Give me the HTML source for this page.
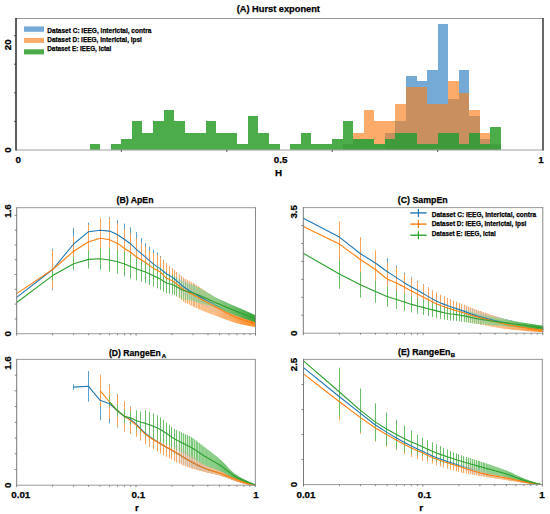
<!DOCTYPE html>
<html><head><meta charset="utf-8"><style>
html,body{margin:0;padding:0;background:#fff;}
svg{display:block;}
text{font-family:"Liberation Sans",sans-serif;font-weight:bold;fill:#000;stroke:#000;stroke-width:0.25px;}
</style></head><body>
<svg width="550" height="514" viewBox="0 0 550 514">
<rect width="550" height="514" fill="#fff"/>
<path d="M90 144H100V150H90ZM111 144H121V150H111ZM121 139H132V150H121ZM132 121H142V150H132ZM142 133H153V150H142ZM153 121H164V150H153ZM164 110H174V150H164ZM174 121H185V150H174ZM185 133H195V150H185ZM195 133H206V150H195ZM206 121H216V150H206ZM216 133H227V150H216ZM227 133H237V150H227ZM237 144H248V150H237ZM248 116H258V150H248ZM258 133H269V150H258ZM269 144H280V150H269ZM290 144H301V150H290ZM301 133H311V150H301ZM311 144H322V150H311ZM322 144H332V150H322ZM332 139H343V150H332ZM343 121H353V144H343ZM490 127H501V144H490Z" fill="#4dac4a" shape-rendering="crispEdges"/>
<path d="M343 144H353V150H343ZM353 139H364V150H353ZM364 139H374V150H364ZM374 144H385V150H374ZM490 144H501V150H490Z" fill="#41a03e" shape-rendering="crispEdges"/>
<path d="M353 133H364V139H353ZM364 110H374V139H364ZM374 121H385V144H374ZM385 121H395V133H385ZM395 104H406V121H395ZM448 81H459V99H448ZM469 110H480V116H469ZM480 133H490V139H480Z" fill="#fdab6a" shape-rendering="crispEdges"/>
<path d="M385 139H395V150H385ZM395 133H406V150H395ZM406 133H417V150H406ZM417 144H427V150H417ZM427 144H438V150H427ZM438 133H448V150H438ZM448 133H459V150H448ZM459 144H469V150H459ZM469 133H480V150H469ZM480 144H490V150H480Z" fill="#3f9a3b" shape-rendering="crispEdges"/>
<path d="M385 133H395V139H385ZM395 121H406V133H395ZM406 87H417V133H406ZM417 87H427V144H417ZM427 104H438V144H427ZM438 104H448V133H438ZM448 99H459V133H448ZM459 93H469V144H459ZM469 116H480V133H469ZM480 139H490V144H480Z" fill="#c98f5e" shape-rendering="crispEdges"/>
<path d="M406 76H417V87H406ZM417 81H427V87H417ZM427 70H438V104H427ZM438 24H448V104H438ZM459 70H469V93H459Z" fill="#75aad6" shape-rendering="crispEdges"/>
<line x1="16" y1="18.5" x2="543" y2="18.5" stroke="#9a9a9a" stroke-width="1"/>
<line x1="16" y1="150" x2="543" y2="150" stroke="#a0a0a0" stroke-width="1"/>
<line x1="16" y1="18" x2="16" y2="150.5" stroke="#2a2a2a" stroke-width="1.5"/>
<line x1="543" y1="18" x2="543" y2="150.5" stroke="#2a2a2a" stroke-width="1.4"/>
<line x1="14" y1="121.4" x2="16" y2="121.4" stroke="#333333" stroke-width="0.8"/>
<line x1="14" y1="92.8" x2="16" y2="92.8" stroke="#333333" stroke-width="0.8"/>
<line x1="14" y1="64.2" x2="16" y2="64.2" stroke="#333333" stroke-width="0.8"/>
<line x1="14" y1="35.6" x2="16" y2="35.6" stroke="#333333" stroke-width="0.8"/>
<line x1="121.4" y1="150" x2="121.4" y2="152" stroke="#333333" stroke-width="0.8"/>
<line x1="226.8" y1="150" x2="226.8" y2="152" stroke="#333333" stroke-width="0.8"/>
<line x1="332.2" y1="150" x2="332.2" y2="152" stroke="#333333" stroke-width="0.8"/>
<line x1="437.6" y1="150" x2="437.6" y2="152" stroke="#333333" stroke-width="0.8"/>
<rect x="24" y="26.4" width="20" height="5.4" fill="#75aad6"/>
<rect x="24" y="37.9" width="20" height="5" fill="#fdab6a"/>
<rect x="24" y="49.3" width="20" height="5.1" fill="#4dac4a"/>
<text x="47.3" y="33.2" text-anchor="start" font-size="7.4" textLength="104" lengthAdjust="spacingAndGlyphs" >Dataset C: iEEG, interictal, contra</text>
<text x="47.3" y="41.9" text-anchor="start" font-size="7.4" textLength="94.6" lengthAdjust="spacingAndGlyphs" >Dataset D: iEEG, interictal, ipsi</text>
<text x="47.3" y="50.6" text-anchor="start" font-size="7.4" textLength="64" lengthAdjust="spacingAndGlyphs" >Dataset E: iEEG, ictal</text>
<text x="278.3" y="12.2" text-anchor="middle" font-size="9.6" textLength="83.3" lengthAdjust="spacingAndGlyphs" >(A) Hurst exponent</text>
<text x="18.3" y="163.3" text-anchor="middle" font-size="9.8" >0</text>
<text x="280.6" y="163.3" text-anchor="middle" font-size="9.8" >0.5</text>
<text x="541" y="163.3" text-anchor="middle" font-size="9.8" >1</text>
<text x="278.5" y="176" text-anchor="middle" font-size="9.8" >H</text>
<text transform="translate(10.8,150) rotate(-90)" text-anchor="middle" font-size="9.8" >0</text>
<text transform="translate(10.8,44.8) rotate(-90)" text-anchor="middle" font-size="9.8" >20</text>
<path d="M52.5 248.7V290.3M73.5 227.8V260.2M88.5 222.7V240.7M100.5 219.2V241.2M109.5 217.2V245M117.5 220.3V249.3M124.5 223.6V255.4M130.5 227.3V260.3M136.5 232.1V266.1M141.5 237.99V268.68M145.5 243.2V271M149.5 246.61V275.05M153.5 249.6V278.6M157.5 252.57V280.62M160.5 255.95V281.85M163.5 259.86V283.21M166.5 263.43V284.37M169.5 266.01V285.08M172.5 268.1V286.1M174.5 270.29V287.74M176.5 272.63V289.6M179.5 274.92V291.48M181.5 277.03V293.23M183.5 278.86V294.74M185.5 280.43V296.04M187.5 281.85V297.22M189.5 283.16V298.31M191.5 284.38V299.32M193.5 285.52V300.28M194.5 286.6V301.19M196.5 287.62V302.05M198.5 288.59V302.88M199.5 289.52V303.66M201.06 290.4V304.41M202.52 291.25V305.12M203.94 292.07V305.81M205.33 292.86V306.47M206.67 293.62V307.11M207.99 294.36V307.73M209.27 295.09V308.32M210.52 295.79V308.9M211.74 296.48V309.46M212.93 297.16V310M214.09 297.82V310.53M215.23 298.47V311.05M216.35 299.12V311.55M217.44 299.75V312.05M218.51 300.38V312.53M219.56 301V313M220.58 301.62V313.47M221.59 302.23V313.93M222.58 302.84V314.39M223.55 303.44V314.85M224.5 304.03V315.3M225.43 304.62V315.74M226.35 305.19V316.17M255.5 319.5V325.5" stroke="#5b9fd0" stroke-width="1" fill="none"/>
<path d="M52.5 250.2V288.8M73.5 236.7V265.7M88.5 224.7V258.9M100.5 218.2V258.2M109.5 218.3V261.3M117.5 223.4V263.4M124.5 229.28V267.72M130.5 233.64V270.96M136.5 238.7V274.7M141.5 242.88V276.65M145.5 246.5V278.5M149.5 249.92V281.33M153.5 252.9V283.9M157.5 254.89V285.57M160.5 256.89V287.31M163.5 260.34V290.45M166.5 263.5V293.1M169.5 265.98V293.06M172.5 268.2V293M174.5 270.02V294.46M176.5 272.11V296.3M179.5 274.2V298.23M181.5 276.11V300.02M183.5 277.69V301.51M185.5 278.97V302.7M187.5 280.1V303.74M189.5 281.15V304.68M191.5 282.17V305.55M193.5 283.2V306.4M194.5 284.24V307.21M196.5 285.28V307.97M198.5 286.3V308.67M199.5 287.32V309.34M201.06 288.32V309.97M202.52 289.31V310.56M203.94 290.28V311.13M205.33 291.23V311.67M206.67 292.16V312.19M207.99 293.08V312.69M209.27 293.97V313.17M210.52 294.84V313.64M211.74 295.68V314.09M212.93 296.51V314.53M214.09 297.31V314.96M215.23 298.09V315.38M216.35 298.85V315.8M217.44 299.59V316.2M218.51 300.31V316.6M219.56 301V317M220.58 301.68V317.39M221.59 302.37V317.79M222.58 303.04V318.18M223.55 303.72V318.56M224.5 304.38V318.94M225.43 305.03V319.31M226.35 305.67V319.68M255.5 319.8V326.8" stroke="#fca35a" stroke-width="1" fill="none"/>
<path d="M52.5 270.6V280.6M73.5 257V270.4M88.5 250.2V268.6M100.5 248V269.6M109.5 248.3V271.7M117.5 249.7V273.7M124.5 251.8V276.4M130.5 254.53V278.67M136.5 257V280.4M141.5 259.18V281.69M145.5 261.1V283.1M149.5 262.96V284.96M153.5 264.8V286.8M157.5 266.51V288.36M160.5 268.35V289.85M163.5 270.72V291.77M166.5 272.7V293.3M169.5 273.79V293.79M172.5 274.8V294.2M174.5 276.11V295.09M176.5 277.63V296.25M179.5 279.14V297.45M181.5 280.47V298.51M183.5 281.51V299.29M185.5 282.28V299.8M187.5 282.93V300.18M189.5 283.52V300.51M191.5 284.13V300.83M193.5 284.8V301.2M194.5 285.54V301.6M196.5 286.34V302M198.5 287.16V302.39M199.5 288.01V302.78M201.06 288.87V303.17M202.52 289.73V303.56M203.94 290.58V303.95M205.33 291.43V304.34M206.67 292.26V304.73M207.99 293.07V305.12M209.27 293.86V305.52M210.52 294.62V305.91M211.74 295.35V306.3M212.93 296.05V306.7M214.09 296.71V307.1M215.23 297.34V307.49M216.35 297.94V307.89M217.44 298.5V308.29M218.51 299.02V308.7M219.56 299.5V309.1M220.58 299.96V309.5M221.59 300.4V309.9M222.58 300.84V310.29M223.55 301.26V310.68M224.5 301.67V311.06M225.43 302.08V311.44M226.35 302.47V311.81M255.5 315.2V322.2" stroke="#6cbf6a" stroke-width="1" fill="none"/>
<defs><linearGradient id="g31_0" gradientUnits="userSpaceOnUse" x1="172.04" y1="0" x2="255.5" y2="0"><stop offset="0" stop-color="#8dbde0" stop-opacity="0"/><stop offset="0.25" stop-color="#8dbde0" stop-opacity="0.5"/><stop offset="0.5" stop-color="#8dbde0" stop-opacity="0.9"/><stop offset="1" stop-color="#3d8cc4"/></linearGradient></defs><polygon points="172.04,268.1 174.57,270.29 176.99,272.63 179.29,274.92 181.5,277.03 183.61,278.86 185.65,280.43 187.6,281.85 189.49,283.16 191.31,284.38 193.07,285.52 194.77,286.6 196.41,287.62 198.01,288.59 199.56,289.52 201.06,290.4 202.52,291.25 203.94,292.07 205.33,292.86 206.67,293.62 207.99,294.36 209.27,295.09 210.52,295.79 211.74,296.48 212.93,297.16 214.09,297.82 215.23,298.47 216.35,299.12 217.44,299.75 218.51,300.38 219.56,301 220.58,301.62 221.59,302.23 222.58,302.84 223.55,303.44 224.5,304.03 225.43,304.62 226.35,305.19 227.25,305.75 228.14,306.3 229.01,306.84 229.87,307.36 230.71,307.87 231.54,308.36 232.36,308.84 233.16,309.3 233.95,309.74 234.73,310.18 235.5,310.59 236.26,310.99 237,311.37 237.74,311.74 238.47,312.1 239.18,312.45 239.89,312.79 240.58,313.13 241.27,313.46 241.95,313.79 242.62,314.1 243.28,314.41 243.93,314.71 244.57,315.01 245.21,315.3 245.84,315.58 246.46,315.86 247.07,316.13 247.68,316.39 248.28,316.65 248.87,316.9 249.46,317.15 250.04,317.39 250.61,317.62 251.18,317.85 251.74,318.08 252.29,318.29 252.84,318.51 253.38,318.72 253.92,318.92 254.45,319.12 254.98,319.31 255.5,319.5 255.5,325.5 254.98,325.41 254.45,325.31 253.92,325.21 253.38,325.11 252.84,325 252.29,324.88 251.74,324.76 251.18,324.64 250.61,324.52 250.04,324.38 249.46,324.25 248.87,324.11 248.28,323.96 247.68,323.81 247.07,323.65 246.46,323.49 245.84,323.33 245.21,323.15 244.57,322.98 243.93,322.79 243.28,322.61 242.62,322.41 241.95,322.21 241.27,322 240.58,321.79 239.89,321.57 239.18,321.35 238.47,321.12 237.74,320.88 237,320.63 236.26,320.38 235.5,320.11 234.73,319.82 233.95,319.52 233.16,319.2 232.36,318.87 231.54,318.52 230.71,318.16 229.87,317.79 229.01,317.4 228.14,317 227.25,316.59 226.35,316.17 225.43,315.74 224.5,315.3 223.55,314.85 222.58,314.39 221.59,313.93 220.58,313.47 219.56,313 218.51,312.53 217.44,312.05 216.35,311.55 215.23,311.05 214.09,310.53 212.93,310 211.74,309.46 210.52,308.9 209.27,308.32 207.99,307.73 206.67,307.11 205.33,306.47 203.94,305.81 202.52,305.12 201.06,304.41 199.56,303.66 198.01,302.88 196.41,302.05 194.77,301.19 193.07,300.28 191.31,299.32 189.49,298.31 187.6,297.22 185.65,296.04 183.61,294.74 181.5,293.23 179.29,291.48 176.99,289.6 174.57,287.74 172.04,286.1" fill="url(#g31_0)"/>
<defs><linearGradient id="g31_1" gradientUnits="userSpaceOnUse" x1="172.04" y1="0" x2="255.5" y2="0"><stop offset="0" stop-color="#fdbf8a" stop-opacity="0"/><stop offset="0.25" stop-color="#fdbf8a" stop-opacity="0.5"/><stop offset="0.5" stop-color="#fdbf8a" stop-opacity="0.9"/><stop offset="1" stop-color="#ff8a22"/></linearGradient></defs><polygon points="172.04,268.2 174.57,270.02 176.99,272.11 179.29,274.2 181.5,276.11 183.61,277.69 185.65,278.97 187.6,280.1 189.49,281.15 191.31,282.17 193.07,283.2 194.77,284.24 196.41,285.28 198.01,286.3 199.56,287.32 201.06,288.32 202.52,289.31 203.94,290.28 205.33,291.23 206.67,292.16 207.99,293.08 209.27,293.97 210.52,294.84 211.74,295.68 212.93,296.51 214.09,297.31 215.23,298.09 216.35,298.85 217.44,299.59 218.51,300.31 219.56,301 220.58,301.68 221.59,302.37 222.58,303.04 223.55,303.72 224.5,304.38 225.43,305.03 226.35,305.67 227.25,306.29 228.14,306.9 229.01,307.49 229.87,308.07 230.71,308.62 231.54,309.16 232.36,309.67 233.16,310.17 233.95,310.64 234.73,311.09 235.5,311.51 236.26,311.92 237,312.3 237.74,312.66 238.47,313.02 239.18,313.37 239.89,313.71 240.58,314.04 241.27,314.36 241.95,314.67 242.62,314.98 243.28,315.27 243.93,315.56 244.57,315.84 245.21,316.12 245.84,316.38 246.46,316.64 247.07,316.89 247.68,317.13 248.28,317.37 248.87,317.59 249.46,317.81 250.04,318.03 250.61,318.24 251.18,318.44 251.74,318.63 252.29,318.81 252.84,318.99 253.38,319.17 253.92,319.34 254.45,319.5 254.98,319.65 255.5,319.8 255.5,326.8 254.98,326.75 254.45,326.69 253.92,326.63 253.38,326.56 252.84,326.49 252.29,326.42 251.74,326.34 251.18,326.25 250.61,326.17 250.04,326.08 249.46,325.98 248.87,325.88 248.28,325.78 247.68,325.67 247.07,325.56 246.46,325.44 245.84,325.32 245.21,325.19 244.57,325.06 243.93,324.92 243.28,324.78 242.62,324.64 241.95,324.49 241.27,324.33 240.58,324.17 239.89,324.01 239.18,323.84 238.47,323.66 237.74,323.48 237,323.3 236.26,323.11 235.5,322.9 234.73,322.67 233.95,322.43 233.16,322.18 232.36,321.91 231.54,321.63 230.71,321.33 229.87,321.03 229.01,320.71 228.14,320.37 227.25,320.03 226.35,319.68 225.43,319.31 224.5,318.94 223.55,318.56 222.58,318.18 221.59,317.79 220.58,317.39 219.56,317 218.51,316.6 217.44,316.2 216.35,315.8 215.23,315.38 214.09,314.96 212.93,314.53 211.74,314.09 210.52,313.64 209.27,313.17 207.99,312.69 206.67,312.19 205.33,311.67 203.94,311.13 202.52,310.56 201.06,309.97 199.56,309.34 198.01,308.67 196.41,307.97 194.77,307.21 193.07,306.4 191.31,305.55 189.49,304.68 187.6,303.74 185.65,302.7 183.61,301.51 181.5,300.02 179.29,298.23 176.99,296.3 174.57,294.46 172.04,293" fill="url(#g31_1)"/>
<defs><linearGradient id="g31_2" gradientUnits="userSpaceOnUse" x1="172.04" y1="0" x2="255.5" y2="0"><stop offset="0" stop-color="#8ccf8a" stop-opacity="0"/><stop offset="0.25" stop-color="#8ccf8a" stop-opacity="0.5"/><stop offset="0.5" stop-color="#8ccf8a" stop-opacity="0.9"/><stop offset="1" stop-color="#3aa53a"/></linearGradient></defs><polygon points="172.04,274.8 174.57,276.11 176.99,277.63 179.29,279.14 181.5,280.47 183.61,281.51 185.65,282.28 187.6,282.93 189.49,283.52 191.31,284.13 193.07,284.8 194.77,285.54 196.41,286.34 198.01,287.16 199.56,288.01 201.06,288.87 202.52,289.73 203.94,290.58 205.33,291.43 206.67,292.26 207.99,293.07 209.27,293.86 210.52,294.62 211.74,295.35 212.93,296.05 214.09,296.71 215.23,297.34 216.35,297.94 217.44,298.5 218.51,299.02 219.56,299.5 220.58,299.96 221.59,300.4 222.58,300.84 223.55,301.26 224.5,301.67 225.43,302.08 226.35,302.47 227.25,302.86 228.14,303.24 229.01,303.61 229.87,303.97 230.71,304.33 231.54,304.68 232.36,305.03 233.16,305.37 233.95,305.7 234.73,306.03 235.5,306.36 236.26,306.68 237,307 237.74,307.31 238.47,307.63 239.18,307.93 239.89,308.24 240.58,308.54 241.27,308.84 241.95,309.14 242.62,309.43 243.28,309.73 243.93,310.01 244.57,310.3 245.21,310.58 245.84,310.86 246.46,311.14 247.07,311.41 247.68,311.68 248.28,311.95 248.87,312.22 249.46,312.48 250.04,312.74 250.61,313 251.18,313.25 251.74,313.5 252.29,313.75 252.84,314 253.38,314.25 253.92,314.49 254.45,314.73 254.98,314.97 255.5,315.2 255.5,322.2 254.98,322.04 254.45,321.88 253.92,321.72 253.38,321.55 252.84,321.38 252.29,321.21 251.74,321.04 251.18,320.86 250.61,320.68 250.04,320.5 249.46,320.31 248.87,320.12 248.28,319.93 247.68,319.73 247.07,319.54 246.46,319.33 245.84,319.12 245.21,318.91 244.57,318.7 243.93,318.48 243.28,318.25 242.62,318.03 241.95,317.79 241.27,317.55 240.58,317.31 239.89,317.06 239.18,316.8 238.47,316.54 237.74,316.27 237,316 236.26,315.72 235.5,315.43 234.73,315.14 233.95,314.83 233.16,314.53 232.36,314.21 231.54,313.89 230.71,313.56 229.87,313.22 229.01,312.88 228.14,312.53 227.25,312.17 226.35,311.81 225.43,311.44 224.5,311.06 223.55,310.68 222.58,310.29 221.59,309.9 220.58,309.5 219.56,309.1 218.51,308.7 217.44,308.29 216.35,307.89 215.23,307.49 214.09,307.1 212.93,306.7 211.74,306.3 210.52,305.91 209.27,305.52 207.99,305.12 206.67,304.73 205.33,304.34 203.94,303.95 202.52,303.56 201.06,303.17 199.56,302.78 198.01,302.39 196.41,302 194.77,301.6 193.07,301.2 191.31,300.83 189.49,300.51 187.6,300.18 185.65,299.8 183.61,299.29 181.5,298.51 179.29,297.45 176.99,296.25 174.57,295.09 172.04,294.2" fill="url(#g31_2)"/>
<defs><linearGradient id="lg31_0" gradientUnits="userSpaceOnUse" x1="201.06" y1="0" x2="229.01" y2="0"><stop offset="0" stop-color="#1f77b4"/><stop offset="1" stop-color="#1f77b4" stop-opacity="0"/></linearGradient></defs><polyline points="16.7,297.4 52.64,269.5 73.67,244 88.59,231.7 100.16,230.2 109.61,231.1 117.6,234.8 124.53,239.5 130.64,243.8 136.1,249.1 141.04,253.33 145.55,257.1 149.7,260.83 153.55,264.1 157.13,266.59 160.47,268.9 163.62,271.53 166.58,273.9 169.38,275.54 172.04,277.1 174.57,279.02 176.99,281.11 179.29,283.2 181.5,285.13 183.61,286.8 185.65,288.23 187.6,289.53 189.49,290.73 191.31,291.85 193.07,292.9 194.77,293.9 196.41,294.84 198.01,295.73 199.56,296.59 201.06,297.4 202.52,298.19 203.94,298.94 205.33,299.66 206.67,300.37 207.99,301.04 209.27,301.7 210.52,302.34 211.74,302.97 212.93,303.58 214.09,304.18 215.23,304.76 216.35,305.33 217.44,305.9 218.51,306.45 219.56,307 220.58,307.54 221.59,308.08 222.58,308.62 223.55,309.14 224.5,309.67 225.43,310.18 226.35,310.68 227.25,311.17 228.14,311.65 229.01,312.12 229.87,312.57 230.71,313.01 231.54,313.44 232.36,313.85 233.16,314.25 233.95,314.63 234.73,315 235.5,315.35 236.26,315.68 237,316 237.74,316.31 238.47,316.61 239.18,316.9 239.89,317.18 240.58,317.46 241.27,317.73 241.95,318 242.62,318.26 243.28,318.51 243.93,318.75 244.57,318.99 245.21,319.23 245.84,319.45 246.46,319.67 247.07,319.89 247.68,320.1 248.28,320.3 248.87,320.5 249.46,320.7 250.04,320.89 250.61,321.07 251.18,321.25 251.74,321.42 252.29,321.59 252.84,321.75 253.38,321.91 253.92,322.06 254.45,322.21 254.98,322.36 255.5,322.5" stroke="url(#lg31_0)" stroke-width="1.1" fill="none" stroke-linejoin="round"/>
<polyline points="16.7,293.6 52.64,269.5 73.67,251.2 88.59,241.8 100.16,238.2 109.61,239.8 117.6,243.4 124.53,248.5 130.64,252.3 136.1,256.7 141.04,259.76 145.55,262.5 149.7,265.62 153.55,268.4 157.13,270.23 160.47,272.1 163.62,275.39 166.58,278.3 169.38,279.52 172.04,280.6 174.57,282.24 176.99,284.2 179.29,286.22 181.5,288.07 183.61,289.6 185.65,290.83 187.6,291.92 189.49,292.92 191.31,293.86 193.07,294.8 194.77,295.73 196.41,296.62 198.01,297.49 199.56,298.33 201.06,299.15 202.52,299.94 203.94,300.71 205.33,301.45 206.67,302.18 207.99,302.88 209.27,303.57 210.52,304.24 211.74,304.89 212.93,305.52 214.09,306.14 215.23,306.74 216.35,307.33 217.44,307.9 218.51,308.46 219.56,309 220.58,309.54 221.59,310.08 222.58,310.61 223.55,311.14 224.5,311.66 225.43,312.17 226.35,312.67 227.25,313.16 228.14,313.64 229.01,314.1 229.87,314.55 230.71,314.98 231.54,315.39 232.36,315.79 233.16,316.17 233.95,316.54 234.73,316.88 235.5,317.21 236.26,317.51 237,317.8 237.74,318.07 238.47,318.34 239.18,318.6 239.89,318.86 240.58,319.1 241.27,319.34 241.95,319.58 242.62,319.81 243.28,320.03 243.93,320.24 244.57,320.45 245.21,320.65 245.84,320.85 246.46,321.04 247.07,321.22 247.68,321.4 248.28,321.57 248.87,321.74 249.46,321.9 250.04,322.05 250.61,322.2 251.18,322.34 251.74,322.48 252.29,322.62 252.84,322.74 253.38,322.86 253.92,322.98 254.45,323.09 254.98,323.2 255.5,323.3" stroke="#ff7f0e" stroke-width="1.1" fill="none" stroke-linejoin="round"/>
<polyline points="16.7,302.5 52.64,275.6 73.67,263.7 88.59,259.4 100.16,258.8 109.61,260 117.6,261.7 124.53,264.1 130.64,266.6 136.1,268.7 141.04,270.43 145.55,272.1 149.7,273.96 153.55,275.8 157.13,277.44 160.47,279.1 163.62,281.24 166.58,283 169.38,283.79 172.04,284.5 174.57,285.6 176.99,286.94 179.29,288.29 181.5,289.49 183.61,290.4 185.65,291.04 187.6,291.56 189.49,292.02 191.31,292.48 193.07,293 194.77,293.57 196.41,294.17 198.01,294.78 199.56,295.4 201.06,296.02 202.52,296.65 203.94,297.27 205.33,297.89 206.67,298.5 207.99,299.1 209.27,299.69 210.52,300.26 211.74,300.83 212.93,301.37 214.09,301.9 215.23,302.42 216.35,302.91 217.44,303.39 218.51,303.86 219.56,304.3 220.58,304.73 221.59,305.15 222.58,305.57 223.55,305.97 224.5,306.37 225.43,306.76 226.35,307.14 227.25,307.51 228.14,307.88 229.01,308.24 229.87,308.6 230.71,308.94 231.54,309.28 232.36,309.62 233.16,309.95 233.95,310.27 234.73,310.58 235.5,310.9 236.26,311.2 237,311.5 237.74,311.79 238.47,312.08 239.18,312.37 239.89,312.65 240.58,312.93 241.27,313.2 241.95,313.47 242.62,313.73 243.28,313.99 243.93,314.25 244.57,314.5 245.21,314.75 245.84,314.99 246.46,315.23 247.07,315.47 247.68,315.71 248.28,315.94 248.87,316.17 249.46,316.4 250.04,316.62 250.61,316.84 251.18,317.06 251.74,317.27 252.29,317.48 252.84,317.69 253.38,317.9 253.92,318.1 254.45,318.3 254.98,318.5 255.5,318.7" stroke="#2ca02c" stroke-width="1.1" fill="none" stroke-linejoin="round"/>
<line x1="16.7" y1="207.7" x2="255.5" y2="207.7" stroke="#9a9a9a" stroke-width="1"/>
<line x1="16.7" y1="333.7" x2="255.5" y2="333.7" stroke="#9a9a9a" stroke-width="1"/>
<line x1="16.7" y1="207.2" x2="16.7" y2="334.2" stroke="#7a7a7a" stroke-width="1"/>
<line x1="255.5" y1="207.2" x2="255.5" y2="334.2" stroke="#8a8a8a" stroke-width="1"/>
<line x1="14.7" y1="318.9" x2="16.7" y2="318.9" stroke="#666666" stroke-width="0.8"/>
<line x1="14.7" y1="304.1" x2="16.7" y2="304.1" stroke="#666666" stroke-width="0.8"/>
<line x1="14.7" y1="289.3" x2="16.7" y2="289.3" stroke="#666666" stroke-width="0.8"/>
<line x1="14.7" y1="274.5" x2="16.7" y2="274.5" stroke="#666666" stroke-width="0.8"/>
<line x1="14.7" y1="259.7" x2="16.7" y2="259.7" stroke="#666666" stroke-width="0.8"/>
<line x1="14.7" y1="244.9" x2="16.7" y2="244.9" stroke="#666666" stroke-width="0.8"/>
<line x1="14.7" y1="230.1" x2="16.7" y2="230.1" stroke="#666666" stroke-width="0.8"/>
<line x1="14.7" y1="215.3" x2="16.7" y2="215.3" stroke="#666666" stroke-width="0.8"/>
<line x1="16.7" y1="333.7" x2="16.7" y2="335.7" stroke="#666666" stroke-width="0.8"/>
<line x1="52.64" y1="333.7" x2="52.64" y2="335.2" stroke="#666666" stroke-width="0.8"/>
<line x1="73.67" y1="333.7" x2="73.67" y2="335.2" stroke="#666666" stroke-width="0.8"/>
<line x1="88.59" y1="333.7" x2="88.59" y2="335.2" stroke="#666666" stroke-width="0.8"/>
<line x1="100.16" y1="333.7" x2="100.16" y2="335.2" stroke="#666666" stroke-width="0.8"/>
<line x1="109.61" y1="333.7" x2="109.61" y2="335.2" stroke="#666666" stroke-width="0.8"/>
<line x1="117.6" y1="333.7" x2="117.6" y2="335.2" stroke="#666666" stroke-width="0.8"/>
<line x1="124.53" y1="333.7" x2="124.53" y2="335.2" stroke="#666666" stroke-width="0.8"/>
<line x1="130.64" y1="333.7" x2="130.64" y2="335.2" stroke="#666666" stroke-width="0.8"/>
<line x1="136.1" y1="333.7" x2="136.1" y2="335.7" stroke="#666666" stroke-width="0.8"/>
<line x1="172.04" y1="333.7" x2="172.04" y2="335.2" stroke="#666666" stroke-width="0.8"/>
<line x1="193.07" y1="333.7" x2="193.07" y2="335.2" stroke="#666666" stroke-width="0.8"/>
<line x1="207.99" y1="333.7" x2="207.99" y2="335.2" stroke="#666666" stroke-width="0.8"/>
<line x1="219.56" y1="333.7" x2="219.56" y2="335.2" stroke="#666666" stroke-width="0.8"/>
<line x1="229.01" y1="333.7" x2="229.01" y2="335.2" stroke="#666666" stroke-width="0.8"/>
<line x1="237" y1="333.7" x2="237" y2="335.2" stroke="#666666" stroke-width="0.8"/>
<line x1="243.93" y1="333.7" x2="243.93" y2="335.2" stroke="#666666" stroke-width="0.8"/>
<line x1="250.04" y1="333.7" x2="250.04" y2="335.2" stroke="#666666" stroke-width="0.8"/>
<line x1="255.5" y1="333.7" x2="255.5" y2="335.7" stroke="#666666" stroke-width="0.8"/>
<text x="135" y="202.7" text-anchor="middle" font-size="9.6" textLength="37" lengthAdjust="spacingAndGlyphs" >(B) ApEn</text>
<text transform="translate(10.8,211) rotate(-90)" text-anchor="middle" font-size="9.8" >1.6</text>
<text transform="translate(10.8,333.7) rotate(-90)" text-anchor="middle" font-size="9.8" >0</text>
<path d="M339.5 222.1V252.1M360.5 240.8V266.8M375.5 251V275M387.5 258V285M396.5 265.5V289.7M404.5 272.4V293.4M411.5 277.1V296.7M417.5 280.8V299.85M423.5 284.1V302.7M428.5 287.37V305.38M432.5 290.43V307.78M436.5 292.95V309.65M440.5 294.95V311M444.5 296.65V312.08M447.5 298.18V313.02M450.5 299.55V313.86M453.5 300.78V314.6M456.5 301.92V315.3M459.5 303V316M461.5 304.06V316.71M464.5 305.1V317.42M466.5 306.1V318.11M468.5 307.06V318.77M470.5 307.98V319.41M472.5 308.84V320M474.5 309.64V320.55M476.5 310.38V321.05M478.5 311.07V321.5M480.5 311.69V321.91M481.5 312.27V322.27M483.5 312.82V322.61M485.5 313.34V322.93M486.5 313.84V323.24M488.2 314.31V323.52M489.67 314.75V323.79M491.09 315.18V324.05M492.48 315.59V324.29M493.83 315.99V324.52M495.15 316.36V324.74M496.43 316.73V324.95M497.68 317.08V325.15M498.91 317.42V325.34M500.1 317.74V325.53M501.27 318.06V325.7M502.42 318.36V325.87M503.53 318.66V326.04M504.63 318.95V326.2M505.7 319.23V326.35M506.75 319.5V326.5M507.78 319.77V326.64M508.79 320.02V326.79M509.78 320.28V326.92M510.75 320.52V327.06M511.71 320.76V327.19M512.65 321V327.31M513.57 321.23V327.44M542.8 327.7V330.7" stroke="#5b9fd0" stroke-width="1" fill="none"/>
<path d="M339.5 221V267.2M360.5 237.1V281.9M375.5 250.2V288.8M387.5 262.9V294.9M396.5 267.1V298.7M404.5 273.9V300.7M411.5 278.22V303.98M417.5 281.58V306.79M423.5 284.6V309.2M428.5 287.63V311.42M432.5 290.47V313.39M436.5 292.87V314.93M440.5 294.84V316.05M444.5 296.55V316.95M447.5 298.08V317.72M450.5 299.46V318.4M453.5 300.7V319M456.5 301.84V319.56M459.5 302.9V320.1M461.5 303.91V320.63M464.5 304.86V321.14M466.5 305.78V321.62M468.5 306.64V322.08M470.5 307.47V322.52M472.5 308.25V322.94M474.5 309V323.33M476.5 309.7V323.7M478.5 310.38V324.05M480.5 311.02V324.38M481.5 311.63V324.7M483.5 312.23V325.01M485.5 312.8V325.31M486.5 313.36V325.61M488.2 313.9V325.89M489.67 314.42V326.16M491.09 314.92V326.43M492.48 315.4V326.68M493.83 315.87V326.92M495.15 316.32V327.15M496.43 316.75V327.37M497.68 317.16V327.58M498.91 317.56V327.78M500.1 317.94V327.97M501.27 318.3V328.15M502.42 318.65V328.32M503.53 318.99V328.48M504.63 319.3V328.63M505.7 319.61V328.77M506.75 319.9V328.9M507.78 320.18V329.02M508.79 320.45V329.14M509.78 320.72V329.26M510.75 320.98V329.37M511.71 321.23V329.48M512.65 321.48V329.59M513.57 321.72V329.69M542.8 328.1V332.1" stroke="#fca35a" stroke-width="1" fill="none"/>
<path d="M339.5 259.4V288.8M360.5 272V297.6M375.5 280.4V302.8M387.5 286.1V306.7M396.5 290.1V308.9M404.5 293.3V310.9M411.5 296.4V312.4M417.5 298.33V313.73M423.5 299.9V314.9M428.5 301.37V316M432.5 302.69V317.01M436.5 303.88V317.92M440.5 305.01V318.79M444.5 306.04V319.58M447.5 306.84V320.16M450.5 307.41V320.5M453.5 307.88V320.74M456.5 308.32V320.95M459.5 308.8V321.2M461.5 309.35V321.51M464.5 309.95V321.85M466.5 310.57V322.21M468.5 311.2V322.56M470.5 311.81V322.9M472.5 312.41V323.22M474.5 312.97V323.52M476.5 313.49V323.78M478.5 313.98V324M480.5 314.42V324.18M481.5 314.82V324.34M483.5 315.2V324.48M485.5 315.56V324.61M486.5 315.9V324.73M488.2 316.22V324.84M489.67 316.53V324.94M491.09 316.83V325.04M492.48 317.11V325.13M493.83 317.38V325.23M495.15 317.64V325.31M496.43 317.89V325.4M497.68 318.13V325.49M498.91 318.37V325.57M500.1 318.59V325.66M501.27 318.81V325.75M502.42 319.02V325.83M503.53 319.22V325.92M504.63 319.42V326.01M505.7 319.61V326.11M506.75 319.8V326.2M507.78 319.98V326.29M508.79 320.16V326.39M509.78 320.34V326.48M510.75 320.51V326.57M511.71 320.67V326.66M512.65 320.84V326.74M513.57 321V326.83M542.8 325.7V329.7" stroke="#6cbf6a" stroke-width="1" fill="none"/>
<defs><linearGradient id="g74_0" gradientUnits="userSpaceOnUse" x1="459.1" y1="0" x2="542.8" y2="0"><stop offset="0" stop-color="#8dbde0" stop-opacity="0"/><stop offset="0.25" stop-color="#8dbde0" stop-opacity="0.5"/><stop offset="0.5" stop-color="#8dbde0" stop-opacity="0.9"/><stop offset="1" stop-color="#3d8cc4"/></linearGradient></defs><polygon points="459.1,303 461.64,304.06 464.06,305.1 466.37,306.1 468.58,307.06 470.7,307.98 472.74,308.84 474.71,309.64 476.6,310.38 478.42,311.07 480.19,311.69 481.89,312.27 483.54,312.82 485.14,313.34 486.69,313.84 488.2,314.31 489.67,314.75 491.09,315.18 492.48,315.59 493.83,315.99 495.15,316.36 496.43,316.73 497.68,317.08 498.91,317.42 500.1,317.74 501.27,318.06 502.42,318.36 503.53,318.66 504.63,318.95 505.7,319.23 506.75,319.5 507.78,319.77 508.79,320.02 509.78,320.28 510.75,320.52 511.71,320.76 512.65,321 513.57,321.23 514.47,321.45 515.36,321.67 516.23,321.89 517.09,322.1 517.94,322.3 518.77,322.5 519.59,322.7 520.4,322.89 521.19,323.08 521.97,323.26 522.74,323.44 523.5,323.62 524.25,323.79 524.99,323.96 525.72,324.13 526.43,324.29 527.14,324.45 527.84,324.61 528.53,324.76 529.21,324.91 529.88,325.06 530.54,325.2 531.2,325.34 531.84,325.48 532.48,325.62 533.11,325.75 533.73,325.89 534.35,326.02 534.96,326.14 535.56,326.27 536.15,326.39 536.74,326.51 537.32,326.63 537.9,326.74 538.46,326.86 539.03,326.97 539.58,327.08 540.13,327.19 540.68,327.29 541.22,327.4 541.75,327.5 542.28,327.6 542.8,327.7 542.8,330.7 542.28,330.66 541.75,330.61 541.22,330.56 540.68,330.52 540.13,330.47 539.58,330.42 539.03,330.37 538.46,330.31 537.9,330.26 537.32,330.21 536.74,330.15 536.15,330.09 535.56,330.03 534.96,329.97 534.35,329.91 533.73,329.85 533.11,329.78 532.48,329.72 531.84,329.65 531.2,329.58 530.54,329.51 529.88,329.44 529.21,329.36 528.53,329.29 527.84,329.21 527.14,329.13 526.43,329.05 525.72,328.96 524.99,328.88 524.25,328.79 523.5,328.7 522.74,328.61 521.97,328.52 521.19,328.42 520.4,328.32 519.59,328.22 518.77,328.12 517.94,328.01 517.09,327.9 516.23,327.79 515.36,327.67 514.47,327.56 513.57,327.44 512.65,327.31 511.71,327.19 510.75,327.06 509.78,326.92 508.79,326.79 507.78,326.64 506.75,326.5 505.7,326.35 504.63,326.2 503.53,326.04 502.42,325.87 501.27,325.7 500.1,325.53 498.91,325.34 497.68,325.15 496.43,324.95 495.15,324.74 493.83,324.52 492.48,324.29 491.09,324.05 489.67,323.79 488.2,323.52 486.69,323.24 485.14,322.93 483.54,322.61 481.89,322.27 480.19,321.91 478.42,321.5 476.6,321.05 474.71,320.55 472.74,320 470.7,319.41 468.58,318.77 466.37,318.11 464.06,317.42 461.64,316.71 459.1,316" fill="url(#g74_0)"/>
<defs><linearGradient id="g74_1" gradientUnits="userSpaceOnUse" x1="459.1" y1="0" x2="542.8" y2="0"><stop offset="0" stop-color="#fdbf8a" stop-opacity="0"/><stop offset="0.25" stop-color="#fdbf8a" stop-opacity="0.5"/><stop offset="0.5" stop-color="#fdbf8a" stop-opacity="0.9"/><stop offset="1" stop-color="#ff8a22"/></linearGradient></defs><polygon points="459.1,302.9 461.64,303.91 464.06,304.86 466.37,305.78 468.58,306.64 470.7,307.47 472.74,308.25 474.71,309 476.6,309.7 478.42,310.38 480.19,311.02 481.89,311.63 483.54,312.23 485.14,312.8 486.69,313.36 488.2,313.9 489.67,314.42 491.09,314.92 492.48,315.4 493.83,315.87 495.15,316.32 496.43,316.75 497.68,317.16 498.91,317.56 500.1,317.94 501.27,318.3 502.42,318.65 503.53,318.99 504.63,319.3 505.7,319.61 506.75,319.9 507.78,320.18 508.79,320.45 509.78,320.72 510.75,320.98 511.71,321.23 512.65,321.48 513.57,321.72 514.47,321.95 515.36,322.18 516.23,322.4 517.09,322.62 517.94,322.83 518.77,323.04 519.59,323.24 520.4,323.44 521.19,323.63 521.97,323.82 522.74,324.01 523.5,324.18 524.25,324.36 524.99,324.53 525.72,324.7 526.43,324.86 527.14,325.02 527.84,325.18 528.53,325.33 529.21,325.48 529.88,325.62 530.54,325.76 531.2,325.9 531.84,326.04 532.48,326.17 533.11,326.3 533.73,326.43 534.35,326.55 534.96,326.67 535.56,326.79 536.15,326.9 536.74,327.02 537.32,327.13 537.9,327.24 538.46,327.34 539.03,327.44 539.58,327.54 540.13,327.64 540.68,327.74 541.22,327.83 541.75,327.92 542.28,328.01 542.8,328.1 542.8,332.1 542.28,332.08 541.75,332.05 541.22,332.03 540.68,332 540.13,331.98 539.58,331.95 539.03,331.92 538.46,331.89 537.9,331.85 537.32,331.82 536.74,331.79 536.15,331.75 535.56,331.71 534.96,331.67 534.35,331.63 533.73,331.59 533.11,331.54 532.48,331.5 531.84,331.45 531.2,331.4 530.54,331.35 529.88,331.3 529.21,331.24 528.53,331.19 527.84,331.13 527.14,331.07 526.43,331 525.72,330.94 524.99,330.87 524.25,330.8 523.5,330.73 522.74,330.66 521.97,330.59 521.19,330.51 520.4,330.43 519.59,330.35 518.77,330.26 517.94,330.17 517.09,330.08 516.23,329.99 515.36,329.89 514.47,329.8 513.57,329.69 512.65,329.59 511.71,329.48 510.75,329.37 509.78,329.26 508.79,329.14 507.78,329.02 506.75,328.9 505.7,328.77 504.63,328.63 503.53,328.48 502.42,328.32 501.27,328.15 500.1,327.97 498.91,327.78 497.68,327.58 496.43,327.37 495.15,327.15 493.83,326.92 492.48,326.68 491.09,326.43 489.67,326.16 488.2,325.89 486.69,325.61 485.14,325.31 483.54,325.01 481.89,324.7 480.19,324.38 478.42,324.05 476.6,323.7 474.71,323.33 472.74,322.94 470.7,322.52 468.58,322.08 466.37,321.62 464.06,321.14 461.64,320.63 459.1,320.1" fill="url(#g74_1)"/>
<defs><linearGradient id="g74_2" gradientUnits="userSpaceOnUse" x1="459.1" y1="0" x2="542.8" y2="0"><stop offset="0" stop-color="#8ccf8a" stop-opacity="0"/><stop offset="0.25" stop-color="#8ccf8a" stop-opacity="0.5"/><stop offset="0.5" stop-color="#8ccf8a" stop-opacity="0.9"/><stop offset="1" stop-color="#3aa53a"/></linearGradient></defs><polygon points="459.1,308.8 461.64,309.35 464.06,309.95 466.37,310.57 468.58,311.2 470.7,311.81 472.74,312.41 474.71,312.97 476.6,313.49 478.42,313.98 480.19,314.42 481.89,314.82 483.54,315.2 485.14,315.56 486.69,315.9 488.2,316.22 489.67,316.53 491.09,316.83 492.48,317.11 493.83,317.38 495.15,317.64 496.43,317.89 497.68,318.13 498.91,318.37 500.1,318.59 501.27,318.81 502.42,319.02 503.53,319.22 504.63,319.42 505.7,319.61 506.75,319.8 507.78,319.98 508.79,320.16 509.78,320.34 510.75,320.51 511.71,320.67 512.65,320.84 513.57,321 514.47,321.15 515.36,321.31 516.23,321.46 517.09,321.61 517.94,321.75 518.77,321.89 519.59,322.03 520.4,322.17 521.19,322.3 521.97,322.43 522.74,322.56 523.5,322.68 524.25,322.81 524.99,322.93 525.72,323.05 526.43,323.17 527.14,323.28 527.84,323.39 528.53,323.51 529.21,323.61 529.88,323.72 530.54,323.83 531.2,323.93 531.84,324.03 532.48,324.13 533.11,324.23 533.73,324.33 534.35,324.43 534.96,324.52 535.56,324.61 536.15,324.71 536.74,324.8 537.32,324.88 537.9,324.97 538.46,325.06 539.03,325.14 539.58,325.22 540.13,325.31 540.68,325.39 541.22,325.47 541.75,325.55 542.28,325.62 542.8,325.7 542.8,329.7 542.28,329.65 541.75,329.59 541.22,329.53 540.68,329.48 540.13,329.42 539.58,329.37 539.03,329.31 538.46,329.25 537.9,329.19 537.32,329.13 536.74,329.08 536.15,329.02 535.56,328.96 534.96,328.89 534.35,328.83 533.73,328.77 533.11,328.71 532.48,328.65 531.84,328.58 531.2,328.52 530.54,328.45 529.88,328.39 529.21,328.32 528.53,328.26 527.84,328.19 527.14,328.12 526.43,328.05 525.72,327.98 524.99,327.91 524.25,327.84 523.5,327.77 522.74,327.7 521.97,327.62 521.19,327.55 520.4,327.47 519.59,327.4 518.77,327.32 517.94,327.24 517.09,327.16 516.23,327.08 515.36,327 514.47,326.92 513.57,326.83 512.65,326.74 511.71,326.66 510.75,326.57 509.78,326.48 508.79,326.39 507.78,326.29 506.75,326.2 505.7,326.11 504.63,326.01 503.53,325.92 502.42,325.83 501.27,325.75 500.1,325.66 498.91,325.57 497.68,325.49 496.43,325.4 495.15,325.31 493.83,325.23 492.48,325.13 491.09,325.04 489.67,324.94 488.2,324.84 486.69,324.73 485.14,324.61 483.54,324.48 481.89,324.34 480.19,324.18 478.42,324 476.6,323.78 474.71,323.52 472.74,323.22 470.7,322.9 468.58,322.56 466.37,322.21 464.06,321.85 461.64,321.51 459.1,321.2" fill="url(#g74_2)"/>
<defs><linearGradient id="lg74_0" gradientUnits="userSpaceOnUse" x1="488.2" y1="0" x2="516.23" y2="0"><stop offset="0" stop-color="#1f77b4"/><stop offset="1" stop-color="#1f77b4" stop-opacity="0"/></linearGradient></defs><polyline points="303.3,218.3 339.35,237.1 360.44,253.8 375.4,263 387,271.5 396.48,277.6 404.5,282.9 411.45,286.9 417.57,290.33 423.05,293.4 428.01,296.38 432.53,299.1 436.69,301.3 440.55,302.98 444.14,304.37 447.49,305.6 450.65,306.7 453.62,307.69 456.43,308.61 459.1,309.5 461.64,310.38 464.06,311.26 466.37,312.11 468.58,312.92 470.7,313.69 472.74,314.42 474.71,315.09 476.6,315.72 478.42,316.29 480.19,316.8 481.89,317.27 483.54,317.72 485.14,318.14 486.69,318.54 488.2,318.91 489.67,319.27 491.09,319.61 492.48,319.94 493.83,320.25 495.15,320.55 496.43,320.84 497.68,321.11 498.91,321.38 500.1,321.63 501.27,321.88 502.42,322.12 503.53,322.35 504.63,322.57 505.7,322.79 506.75,323 507.78,323.2 508.79,323.4 509.78,323.6 510.75,323.79 511.71,323.97 512.65,324.16 513.57,324.33 514.47,324.5 515.36,324.67 516.23,324.84 517.09,325 517.94,325.16 518.77,325.31 519.59,325.46 520.4,325.61 521.19,325.75 521.97,325.89 522.74,326.03 523.5,326.16 524.25,326.29 524.99,326.42 525.72,326.55 526.43,326.67 527.14,326.79 527.84,326.91 528.53,327.02 529.21,327.14 529.88,327.25 530.54,327.36 531.2,327.46 531.84,327.57 532.48,327.67 533.11,327.77 533.73,327.87 534.35,327.96 534.96,328.06 535.56,328.15 536.15,328.24 536.74,328.33 537.32,328.42 537.9,328.5 538.46,328.59 539.03,328.67 539.58,328.75 540.13,328.83 540.68,328.9 541.22,328.98 541.75,329.06 542.28,329.13 542.8,329.2" stroke="url(#lg74_0)" stroke-width="1.1" fill="none" stroke-linejoin="round"/>
<polyline points="303.3,226.4 339.35,244.1 360.44,259.5 375.4,269.5 387,278.9 396.48,282.9 404.5,287.3 411.45,291.1 417.57,294.19 423.05,296.9 428.01,299.53 432.53,301.93 436.69,303.9 440.55,305.45 444.14,306.75 447.49,307.9 450.65,308.93 453.62,309.85 456.43,310.7 459.1,311.5 461.64,312.27 464.06,313 466.37,313.7 468.58,314.36 470.7,314.99 472.74,315.59 474.71,316.16 476.6,316.7 478.42,317.21 480.19,317.7 481.89,318.17 483.54,318.62 485.14,319.06 486.69,319.48 488.2,319.89 489.67,320.29 491.09,320.67 492.48,321.04 493.83,321.4 495.15,321.74 496.43,322.06 497.68,322.37 498.91,322.67 500.1,322.96 501.27,323.23 502.42,323.49 503.53,323.73 504.63,323.97 505.7,324.19 506.75,324.4 507.78,324.6 508.79,324.8 509.78,324.99 510.75,325.18 511.71,325.36 512.65,325.53 513.57,325.71 514.47,325.87 515.36,326.04 516.23,326.2 517.09,326.35 517.94,326.5 518.77,326.65 519.59,326.79 520.4,326.93 521.19,327.07 521.97,327.2 522.74,327.33 523.5,327.46 524.25,327.58 524.99,327.7 525.72,327.82 526.43,327.93 527.14,328.04 527.84,328.15 528.53,328.26 529.21,328.36 529.88,328.46 530.54,328.56 531.2,328.65 531.84,328.74 532.48,328.83 533.11,328.92 533.73,329.01 534.35,329.09 534.96,329.17 535.56,329.25 536.15,329.33 536.74,329.4 537.32,329.47 537.9,329.54 538.46,329.61 539.03,329.68 539.58,329.75 540.13,329.81 540.68,329.87 541.22,329.93 541.75,329.99 542.28,330.05 542.8,330.1" stroke="#ff7f0e" stroke-width="1.1" fill="none" stroke-linejoin="round"/>
<polyline points="303.3,253.3 339.35,274.1 360.44,284.8 375.4,291.6 387,296.4 396.48,299.5 404.5,302.1 411.45,304.4 417.57,306.03 423.05,307.4 428.01,308.68 432.53,309.85 436.69,310.9 440.55,311.9 444.14,312.81 447.49,313.5 450.65,313.96 453.62,314.31 456.43,314.63 459.1,315 461.64,315.43 464.06,315.9 466.37,316.39 468.58,316.88 470.7,317.36 472.74,317.81 474.71,318.24 476.6,318.64 478.42,318.99 480.19,319.3 481.89,319.58 483.54,319.84 485.14,320.08 486.69,320.31 488.2,320.53 489.67,320.74 491.09,320.93 492.48,321.12 493.83,321.3 495.15,321.48 496.43,321.65 497.68,321.81 498.91,321.97 500.1,322.12 501.27,322.28 502.42,322.43 503.53,322.57 504.63,322.72 505.7,322.86 506.75,323 507.78,323.14 508.79,323.27 509.78,323.41 510.75,323.54 511.71,323.67 512.65,323.79 513.57,323.91 514.47,324.03 515.36,324.15 516.23,324.27 517.09,324.38 517.94,324.49 518.77,324.6 519.59,324.71 520.4,324.82 521.19,324.92 521.97,325.03 522.74,325.13 523.5,325.23 524.25,325.32 524.99,325.42 525.72,325.52 526.43,325.61 527.14,325.7 527.84,325.79 528.53,325.88 529.21,325.97 529.88,326.06 530.54,326.14 531.2,326.23 531.84,326.31 532.48,326.39 533.11,326.47 533.73,326.55 534.35,326.63 534.96,326.71 535.56,326.78 536.15,326.86 536.74,326.94 537.32,327.01 537.9,327.08 538.46,327.15 539.03,327.23 539.58,327.3 540.13,327.36 540.68,327.43 541.22,327.5 541.75,327.57 542.28,327.63 542.8,327.7" stroke="#2ca02c" stroke-width="1.1" fill="none" stroke-linejoin="round"/>
<line x1="303.3" y1="207.6" x2="542.8" y2="207.6" stroke="#9a9a9a" stroke-width="1"/>
<line x1="303.3" y1="333.2" x2="542.8" y2="333.2" stroke="#9a9a9a" stroke-width="1"/>
<line x1="303.3" y1="207.1" x2="303.3" y2="333.7" stroke="#7a7a7a" stroke-width="1"/>
<line x1="542.8" y1="207.1" x2="542.8" y2="333.7" stroke="#8a8a8a" stroke-width="1"/>
<line x1="301.3" y1="315.26" x2="303.3" y2="315.26" stroke="#666666" stroke-width="0.8"/>
<line x1="301.3" y1="297.32" x2="303.3" y2="297.32" stroke="#666666" stroke-width="0.8"/>
<line x1="301.3" y1="279.38" x2="303.3" y2="279.38" stroke="#666666" stroke-width="0.8"/>
<line x1="301.3" y1="261.44" x2="303.3" y2="261.44" stroke="#666666" stroke-width="0.8"/>
<line x1="301.3" y1="243.5" x2="303.3" y2="243.5" stroke="#666666" stroke-width="0.8"/>
<line x1="301.3" y1="225.56" x2="303.3" y2="225.56" stroke="#666666" stroke-width="0.8"/>
<line x1="303.3" y1="333.2" x2="303.3" y2="335.2" stroke="#666666" stroke-width="0.8"/>
<line x1="339.35" y1="333.2" x2="339.35" y2="334.7" stroke="#666666" stroke-width="0.8"/>
<line x1="360.44" y1="333.2" x2="360.44" y2="334.7" stroke="#666666" stroke-width="0.8"/>
<line x1="375.4" y1="333.2" x2="375.4" y2="334.7" stroke="#666666" stroke-width="0.8"/>
<line x1="387" y1="333.2" x2="387" y2="334.7" stroke="#666666" stroke-width="0.8"/>
<line x1="396.48" y1="333.2" x2="396.48" y2="334.7" stroke="#666666" stroke-width="0.8"/>
<line x1="404.5" y1="333.2" x2="404.5" y2="334.7" stroke="#666666" stroke-width="0.8"/>
<line x1="411.45" y1="333.2" x2="411.45" y2="334.7" stroke="#666666" stroke-width="0.8"/>
<line x1="417.57" y1="333.2" x2="417.57" y2="334.7" stroke="#666666" stroke-width="0.8"/>
<line x1="423.05" y1="333.2" x2="423.05" y2="335.2" stroke="#666666" stroke-width="0.8"/>
<line x1="459.1" y1="333.2" x2="459.1" y2="334.7" stroke="#666666" stroke-width="0.8"/>
<line x1="480.19" y1="333.2" x2="480.19" y2="334.7" stroke="#666666" stroke-width="0.8"/>
<line x1="495.15" y1="333.2" x2="495.15" y2="334.7" stroke="#666666" stroke-width="0.8"/>
<line x1="506.75" y1="333.2" x2="506.75" y2="334.7" stroke="#666666" stroke-width="0.8"/>
<line x1="516.23" y1="333.2" x2="516.23" y2="334.7" stroke="#666666" stroke-width="0.8"/>
<line x1="524.25" y1="333.2" x2="524.25" y2="334.7" stroke="#666666" stroke-width="0.8"/>
<line x1="531.2" y1="333.2" x2="531.2" y2="334.7" stroke="#666666" stroke-width="0.8"/>
<line x1="537.32" y1="333.2" x2="537.32" y2="334.7" stroke="#666666" stroke-width="0.8"/>
<line x1="542.8" y1="333.2" x2="542.8" y2="335.2" stroke="#666666" stroke-width="0.8"/>
<text x="422.7" y="202.7" text-anchor="middle" font-size="9.6" textLength="50" lengthAdjust="spacingAndGlyphs" >(C) SampEn</text>
<text transform="translate(297.2,211.8) rotate(-90)" text-anchor="middle" font-size="9.8" >3.5</text>
<text transform="translate(297.2,333.2) rotate(-90)" text-anchor="middle" font-size="9.8" >0</text>
<line x1="410.3" y1="212.9" x2="426.6" y2="212.9" stroke="#1f77b4" stroke-width="1.4"/>
<line x1="418.4" y1="208.9" x2="418.4" y2="216.9" stroke="#1f77b4" stroke-width="1.2"/>
<text x="431.7" y="217.1" text-anchor="start" font-size="7.4" textLength="104.5" lengthAdjust="spacingAndGlyphs" >Dataset C: iEEG, interictal, contra</text>
<line x1="410.3" y1="224.1" x2="426.6" y2="224.1" stroke="#ff7f0e" stroke-width="1.4"/>
<line x1="418.4" y1="220.1" x2="418.4" y2="228.1" stroke="#ff7f0e" stroke-width="1.2"/>
<text x="431.7" y="226.4" text-anchor="start" font-size="7.4" textLength="94.6" lengthAdjust="spacingAndGlyphs" >Dataset D: iEEG, interictal, ipsi</text>
<line x1="410.3" y1="235.2" x2="426.6" y2="235.2" stroke="#2ca02c" stroke-width="1.4"/>
<line x1="418.4" y1="231.2" x2="418.4" y2="239.2" stroke="#2ca02c" stroke-width="1.2"/>
<text x="431.7" y="235.5" text-anchor="start" font-size="7.4" textLength="64" lengthAdjust="spacingAndGlyphs" >Dataset E: iEEG, ictal</text>
<path d="M73.5 384.3V389.9M88.5 371V401.6M100.5 380.3V420.3M109.5 384.2V423.4M117.5 394.1V427.5M124.5 401.4V431.4M130.5 406.5V432.5M136.5 412.9V434.9M140.5 418.74V439.27M145.5 423.74V443.26M149.5 427.24V446.06M153.5 430.05V448.39M157.5 432.5V450.5M160.5 434.69V452.47M163.5 436.63V454.27M166.5 438.4V455.93M169.5 440.05V457.47M171.5 441.63V458.93M174.5 443.18V460.3M176.5 444.72V461.61M179.5 446.35V462.78M181.5 448.03V463.81M183.5 449.71V464.74M185.5 451.34V465.58M187.5 452.9V466.34M189.5 454.36V467.05M191.5 455.7V467.7M192.5 456.98V468.3M194.5 458.24V468.83M196.5 459.47V469.31M197.5 460.65V469.76M199.5 461.76V470.17M200.91 462.78V470.57M202.37 463.72V470.95M203.79 464.56V471.33M205.17 465.3V471.7M206.51 465.96V472.05M207.83 466.56V472.37M209.11 467.12V472.66M210.35 467.64V472.93M211.57 468.12V473.19M212.76 468.59V473.44M213.93 469.03V473.7M215.07 469.45V473.95M216.18 469.85V474.21M217.27 470.25V474.49M218.34 470.64V474.77M219.39 471.02V475.08M220.41 471.4V475.4M221.42 471.78V475.74M222.41 472.16V476.08M223.37 472.53V476.43M224.33 472.91V476.78M225.26 473.28V477.13M226.18 473.65V477.48M255.3 484.5V485.5" stroke="#5b9fd0" stroke-width="1" fill="none"/>
<path d="M100.5 374.8V406.4M109.5 385V419M117.5 394.8V426.8M124.5 401.4V431.4M130.5 406.92V433.88M136.5 412.8V436.8M140.5 419.16V440.62M145.5 424.3V444.3M149.5 427.44V447.11M153.5 429.92V449.4M157.5 432.12V451.48M160.5 434.16V453.43M163.5 436V455.2M166.5 437.7V456.83M169.5 439.31V458.34M171.5 440.87V459.76M174.5 442.39V461.11M176.5 443.92V462.4M179.5 445.55V463.55M181.5 447.25V464.56M183.5 448.96V465.46M185.5 450.63V466.27M187.5 452.23V467M189.5 453.73V467.68M191.5 455.1V468.3M192.5 456.41V468.86M194.5 457.72V469.36M196.5 458.99V469.8M197.5 460.2V470.2M199.5 461.35V470.58M200.91 462.41V470.94M202.37 463.38V471.29M203.79 464.25V471.64M205.17 465V472M206.51 465.67V472.34M207.83 466.28V472.64M209.11 466.85V472.92M210.35 467.39V473.18M211.57 467.88V473.43M212.76 468.36V473.68M213.93 468.8V473.92M215.07 469.23V474.17M216.18 469.64V474.43M217.27 470.04V474.69M218.34 470.44V474.98M219.39 470.82V475.28M220.41 471.2V475.6M221.42 471.58V475.94M222.41 471.96V476.28M223.37 472.33V476.63M224.33 472.71V476.98M225.26 473.08V477.33M226.18 473.45V477.68M255.3 484.5V485.5" stroke="#fca35a" stroke-width="1" fill="none"/>
<path d="M109.5 397V407M117.5 404.8V416.8M124.5 409.9V422.9M130.5 410.8V424.8M136.5 410.4V430.4M140.5 411.7V432.7M145.5 410.4V436.4M149.5 411.86V437.68M153.5 413.52V438.96M157.5 415.3V440.3M160.5 417.41V441.71M163.5 419.85V443.14M166.5 422.37V444.57M169.5 424.77V446M171.5 426.92V447.41M174.5 428.72V448.79M176.5 430.12V450.13M179.5 431.3V451.35M181.5 432.36V452.48M183.5 433.35V453.55M185.5 434.3V454.57M187.5 435.24V455.58M189.5 436.2V456.58M191.5 437.2V457.6M192.5 438.28V458.61M194.5 439.44V459.59M196.5 440.66V460.53M197.5 441.89V461.43M199.5 443.12V462.29M200.91 444.34V463.11M202.37 445.51V463.89M203.79 446.64V464.62M205.17 447.7V465.3M206.51 448.72V465.92M207.83 449.72V466.47M209.11 450.7V466.97M210.35 451.67V467.43M211.57 452.62V467.86M212.76 453.56V468.27M213.93 454.49V468.66M215.07 455.41V469.05M216.18 456.32V469.44M217.27 457.23V469.83M218.34 458.12V470.24M219.39 459.02V470.66M220.41 459.9V471.1M221.42 460.8V471.56M222.41 461.73V472.05M223.37 462.69V472.55M224.33 463.65V473.05M225.26 464.61V473.57M226.18 465.57V474.08M255.3 484.3V485.3" stroke="#6cbf6a" stroke-width="1" fill="none"/>
<defs><linearGradient id="g124_0" gradientUnits="userSpaceOnUse" x1="171.91" y1="0" x2="255.3" y2="0"><stop offset="0" stop-color="#8dbde0" stop-opacity="0"/><stop offset="0.25" stop-color="#8dbde0" stop-opacity="0.5"/><stop offset="0.5" stop-color="#8dbde0" stop-opacity="0.9"/><stop offset="1" stop-color="#3d8cc4"/></linearGradient></defs><polygon points="171.91,441.63 174.44,443.18 176.85,444.72 179.15,446.35 181.36,448.03 183.47,449.71 185.51,451.34 187.46,452.9 189.35,454.36 191.16,455.7 192.92,456.98 194.62,458.24 196.26,459.47 197.86,460.65 199.41,461.76 200.91,462.78 202.37,463.72 203.79,464.56 205.17,465.3 206.51,465.96 207.83,466.56 209.11,467.12 210.35,467.64 211.57,468.12 212.76,468.59 213.93,469.03 215.07,469.45 216.18,469.85 217.27,470.25 218.34,470.64 219.39,471.02 220.41,471.4 221.42,471.78 222.41,472.16 223.37,472.53 224.33,472.91 225.26,473.28 226.18,473.65 227.08,474.01 227.96,474.37 228.83,474.73 229.69,475.07 230.53,475.41 231.36,475.75 232.18,476.07 232.98,476.39 233.77,476.7 234.55,477.01 235.32,477.3 236.07,477.59 236.82,477.89 237.56,478.19 238.28,478.5 238.99,478.8 239.7,479.11 240.39,479.41 241.08,479.71 241.76,480 242.43,480.29 243.09,480.57 243.74,480.85 244.38,481.12 245.02,481.38 245.65,481.63 246.27,481.87 246.88,482.1 247.49,482.33 248.08,482.54 248.68,482.74 249.26,482.92 249.84,483.1 250.41,483.27 250.98,483.43 251.54,483.58 252.09,483.73 252.64,483.87 253.18,484.01 253.72,484.14 254.25,484.26 254.78,484.38 255.3,484.5 255.3,485.5 254.78,485.46 254.25,485.42 253.72,485.38 253.18,485.33 252.64,485.27 252.09,485.21 251.54,485.14 250.98,485.07 250.41,484.99 249.84,484.9 249.26,484.8 248.68,484.7 248.08,484.59 247.49,484.46 246.88,484.33 246.27,484.19 245.65,484.04 245.02,483.89 244.38,483.72 243.74,483.55 243.09,483.37 242.43,483.18 241.76,482.98 241.08,482.78 240.39,482.56 239.7,482.34 238.99,482.12 238.28,481.89 237.56,481.65 236.82,481.4 236.07,481.15 235.32,480.9 234.55,480.64 233.77,480.36 232.98,480.08 232.18,479.78 231.36,479.48 230.53,479.16 229.69,478.84 228.83,478.51 227.96,478.17 227.08,477.83 226.18,477.48 225.26,477.13 224.33,476.78 223.37,476.43 222.41,476.08 221.42,475.74 220.41,475.4 219.39,475.08 218.34,474.77 217.27,474.49 216.18,474.21 215.07,473.95 213.93,473.7 212.76,473.44 211.57,473.19 210.35,472.93 209.11,472.66 207.83,472.37 206.51,472.05 205.17,471.7 203.79,471.33 202.37,470.95 200.91,470.57 199.41,470.17 197.86,469.76 196.26,469.31 194.62,468.83 192.92,468.3 191.16,467.7 189.35,467.05 187.46,466.34 185.51,465.58 183.47,464.74 181.36,463.81 179.15,462.78 176.85,461.61 174.44,460.3 171.91,458.93" fill="url(#g124_0)"/>
<defs><linearGradient id="g124_1" gradientUnits="userSpaceOnUse" x1="171.91" y1="0" x2="255.3" y2="0"><stop offset="0" stop-color="#fdbf8a" stop-opacity="0"/><stop offset="0.25" stop-color="#fdbf8a" stop-opacity="0.5"/><stop offset="0.5" stop-color="#fdbf8a" stop-opacity="0.9"/><stop offset="1" stop-color="#ff8a22"/></linearGradient></defs><polygon points="171.91,440.87 174.44,442.39 176.85,443.92 179.15,445.55 181.36,447.25 183.47,448.96 185.51,450.63 187.46,452.23 189.35,453.73 191.16,455.1 192.92,456.41 194.62,457.72 196.26,458.99 197.86,460.2 199.41,461.35 200.91,462.41 202.37,463.38 203.79,464.25 205.17,465 206.51,465.67 207.83,466.28 209.11,466.85 210.35,467.39 211.57,467.88 212.76,468.36 213.93,468.8 215.07,469.23 216.18,469.64 217.27,470.04 218.34,470.44 219.39,470.82 220.41,471.2 221.42,471.58 222.41,471.96 223.37,472.33 224.33,472.71 225.26,473.08 226.18,473.45 227.08,473.81 227.96,474.17 228.83,474.53 229.69,474.87 230.53,475.21 231.36,475.55 232.18,475.87 232.98,476.19 233.77,476.5 234.55,476.81 235.32,477.1 236.07,477.39 236.82,477.69 237.56,478 238.28,478.3 238.99,478.61 239.7,478.92 240.39,479.22 241.08,479.52 241.76,479.82 242.43,480.12 243.09,480.4 243.74,480.69 244.38,480.96 245.02,481.23 245.65,481.48 246.27,481.73 246.88,481.97 247.49,482.2 248.08,482.42 248.68,482.62 249.26,482.82 249.84,483 250.41,483.17 250.98,483.34 251.54,483.51 252.09,483.66 252.64,483.82 253.18,483.96 253.72,484.11 254.25,484.24 254.78,484.37 255.3,484.5 255.3,485.5 254.78,485.48 254.25,485.45 253.72,485.41 253.18,485.37 252.64,485.33 252.09,485.28 251.54,485.22 250.98,485.15 250.41,485.08 249.84,485 249.26,484.91 248.68,484.81 248.08,484.71 247.49,484.59 246.88,484.47 246.27,484.33 245.65,484.19 245.02,484.04 244.38,483.88 243.74,483.71 243.09,483.53 242.43,483.35 241.76,483.16 241.08,482.96 240.39,482.75 239.7,482.53 238.99,482.31 238.28,482.08 237.56,481.84 236.82,481.6 236.07,481.35 235.32,481.1 234.55,480.84 233.77,480.56 232.98,480.28 232.18,479.98 231.36,479.68 230.53,479.36 229.69,479.04 228.83,478.71 227.96,478.37 227.08,478.03 226.18,477.68 225.26,477.33 224.33,476.98 223.37,476.63 222.41,476.28 221.42,475.94 220.41,475.6 219.39,475.28 218.34,474.98 217.27,474.69 216.18,474.43 215.07,474.17 213.93,473.92 212.76,473.68 211.57,473.43 210.35,473.18 209.11,472.92 207.83,472.64 206.51,472.34 205.17,472 203.79,471.64 202.37,471.29 200.91,470.94 199.41,470.58 197.86,470.2 196.26,469.8 194.62,469.36 192.92,468.86 191.16,468.3 189.35,467.68 187.46,467 185.51,466.27 183.47,465.46 181.36,464.56 179.15,463.55 176.85,462.4 174.44,461.11 171.91,459.76" fill="url(#g124_1)"/>
<defs><linearGradient id="g124_2" gradientUnits="userSpaceOnUse" x1="171.91" y1="0" x2="255.3" y2="0"><stop offset="0" stop-color="#8ccf8a" stop-opacity="0"/><stop offset="0.25" stop-color="#8ccf8a" stop-opacity="0.5"/><stop offset="0.5" stop-color="#8ccf8a" stop-opacity="0.9"/><stop offset="1" stop-color="#3aa53a"/></linearGradient></defs><polygon points="171.91,426.92 174.44,428.72 176.85,430.12 179.15,431.3 181.36,432.36 183.47,433.35 185.51,434.3 187.46,435.24 189.35,436.2 191.16,437.2 192.92,438.28 194.62,439.44 196.26,440.66 197.86,441.89 199.41,443.12 200.91,444.34 202.37,445.51 203.79,446.64 205.17,447.7 206.51,448.72 207.83,449.72 209.11,450.7 210.35,451.67 211.57,452.62 212.76,453.56 213.93,454.49 215.07,455.41 216.18,456.32 217.27,457.23 218.34,458.12 219.39,459.02 220.41,459.9 221.42,460.8 222.41,461.73 223.37,462.69 224.33,463.65 225.26,464.61 226.18,465.57 227.08,466.51 227.96,467.43 228.83,468.33 229.69,469.2 230.53,470.03 231.36,470.83 232.18,471.58 232.98,472.28 233.77,472.94 234.55,473.55 235.32,474.1 236.07,474.61 236.82,475.1 237.56,475.57 238.28,476.02 238.99,476.45 239.7,476.87 240.39,477.27 241.08,477.65 241.76,478.02 242.43,478.38 243.09,478.72 243.74,479.06 244.38,479.39 245.02,479.7 245.65,480.01 246.27,480.31 246.88,480.61 247.49,480.9 248.08,481.18 248.68,481.46 249.26,481.73 249.84,482 250.41,482.26 250.98,482.52 251.54,482.76 252.09,483 252.64,483.23 253.18,483.46 253.72,483.68 254.25,483.89 254.78,484.1 255.3,484.3 255.3,485.3 254.78,485.19 254.25,485.08 253.72,484.96 253.18,484.84 252.64,484.71 252.09,484.58 251.54,484.45 250.98,484.31 250.41,484.16 249.84,484 249.26,483.84 248.68,483.67 248.08,483.5 247.49,483.32 246.88,483.13 246.27,482.94 245.65,482.75 245.02,482.54 244.38,482.33 243.74,482.12 243.09,481.89 242.43,481.66 241.76,481.42 241.08,481.18 240.39,480.92 239.7,480.66 238.99,480.39 238.28,480.11 237.56,479.82 236.82,479.53 236.07,479.22 235.32,478.9 234.55,478.56 233.77,478.2 232.98,477.82 232.18,477.41 231.36,476.98 230.53,476.53 229.69,476.07 228.83,475.59 227.96,475.09 227.08,474.59 226.18,474.08 225.26,473.57 224.33,473.05 223.37,472.55 222.41,472.05 221.42,471.56 220.41,471.1 219.39,470.66 218.34,470.24 217.27,469.83 216.18,469.44 215.07,469.05 213.93,468.66 212.76,468.27 211.57,467.86 210.35,467.43 209.11,466.97 207.83,466.47 206.51,465.92 205.17,465.3 203.79,464.62 202.37,463.89 200.91,463.11 199.41,462.29 197.86,461.43 196.26,460.53 194.62,459.59 192.92,458.61 191.16,457.6 189.35,456.58 187.46,455.58 185.51,454.57 183.47,453.55 181.36,452.48 179.15,451.35 176.85,450.13 174.44,448.79 171.91,447.41" fill="url(#g124_2)"/>
<defs><linearGradient id="lg124_0" gradientUnits="userSpaceOnUse" x1="200.91" y1="0" x2="228.83" y2="0"><stop offset="0" stop-color="#1f77b4"/><stop offset="1" stop-color="#1f77b4" stop-opacity="0"/></linearGradient></defs><polyline points="73.62,387.1 88.53,386.3 100.09,400.3 109.53,403.8 117.52,410.8 124.44,416.4 130.54,419.5 136,423.9 140.94,429.01 145.45,433.5 149.59,436.65 153.43,439.22 157.01,441.5 160.35,443.58 163.49,445.45 166.45,447.16 169.26,448.76 171.91,450.28 174.44,451.74 176.85,453.17 179.15,454.57 181.36,455.92 183.47,457.22 185.51,458.46 187.46,459.62 189.35,460.7 191.16,461.7 192.92,462.64 194.62,463.54 196.26,464.39 197.86,465.2 199.41,465.96 200.91,466.68 202.37,467.34 203.79,467.94 205.17,468.5 206.51,469 207.83,469.46 209.11,469.89 210.35,470.28 211.57,470.66 212.76,471.02 213.93,471.36 215.07,471.7 216.18,472.03 217.27,472.37 218.34,472.71 219.39,473.05 220.41,473.4 221.42,473.76 222.41,474.12 223.37,474.48 224.33,474.84 225.26,475.21 226.18,475.56 227.08,475.92 227.96,476.27 228.83,476.62 229.69,476.96 230.53,477.29 231.36,477.61 232.18,477.93 232.98,478.24 233.77,478.53 234.55,478.82 235.32,479.1 236.07,479.37 236.82,479.65 237.56,479.92 238.28,480.19 238.99,480.46 239.7,480.72 240.39,480.99 241.08,481.24 241.76,481.49 242.43,481.73 243.09,481.97 243.74,482.2 244.38,482.42 245.02,482.63 245.65,482.84 246.27,483.03 246.88,483.22 247.49,483.39 248.08,483.56 248.68,483.72 249.26,483.86 249.84,484 250.41,484.13 250.98,484.25 251.54,484.36 252.09,484.47 252.64,484.57 253.18,484.67 253.72,484.76 254.25,484.84 254.78,484.92 255.3,485" stroke="url(#lg124_0)" stroke-width="1.1" fill="none" stroke-linejoin="round"/>
<polyline points="100.09,390.6 109.53,402 117.52,410.8 124.44,416.4 130.54,420.4 136,424.8 140.94,429.89 145.45,434.3 149.59,437.27 153.43,439.66 157.01,441.8 160.35,443.79 163.49,445.6 166.45,447.26 169.26,448.83 171.91,450.32 174.44,451.75 176.85,453.16 179.15,454.55 181.36,455.9 183.47,457.21 185.51,458.45 187.46,459.62 189.35,460.7 191.16,461.7 192.92,462.64 194.62,463.54 196.26,464.39 197.86,465.2 199.41,465.96 200.91,466.68 202.37,467.34 203.79,467.94 205.17,468.5 206.51,469 207.83,469.46 209.11,469.89 210.35,470.28 211.57,470.66 212.76,471.02 213.93,471.36 215.07,471.7 216.18,472.03 217.27,472.37 218.34,472.71 219.39,473.05 220.41,473.4 221.42,473.76 222.41,474.12 223.37,474.48 224.33,474.84 225.26,475.21 226.18,475.56 227.08,475.92 227.96,476.27 228.83,476.62 229.69,476.96 230.53,477.29 231.36,477.61 232.18,477.93 232.98,478.24 233.77,478.53 234.55,478.82 235.32,479.1 236.07,479.37 236.82,479.65 237.56,479.92 238.28,480.19 238.99,480.46 239.7,480.72 240.39,480.99 241.08,481.24 241.76,481.49 242.43,481.73 243.09,481.97 243.74,482.2 244.38,482.42 245.02,482.63 245.65,482.84 246.27,483.03 246.88,483.22 247.49,483.39 248.08,483.56 248.68,483.72 249.26,483.86 249.84,484 250.41,484.13 250.98,484.25 251.54,484.36 252.09,484.47 252.64,484.57 253.18,484.67 253.72,484.76 254.25,484.84 254.78,484.92 255.3,485" stroke="#ff7f0e" stroke-width="1.1" fill="none" stroke-linejoin="round"/>
<polyline points="109.53,402 117.52,410.8 124.44,416.4 130.54,417.8 136,420.4 140.94,422.2 145.45,423.4 149.59,424.77 153.43,426.24 157.01,427.8 160.35,429.56 163.49,431.5 166.45,433.47 169.26,435.39 171.91,437.16 174.44,438.75 176.85,440.12 179.15,441.33 181.36,442.42 183.47,443.45 185.51,444.43 187.46,445.41 189.35,446.39 191.16,447.4 192.92,448.44 194.62,449.51 196.26,450.59 197.86,451.66 199.41,452.71 200.91,453.73 202.37,454.7 203.79,455.63 205.17,456.5 206.51,457.32 207.83,458.1 209.11,458.84 210.35,459.55 211.57,460.24 212.76,460.91 213.93,461.58 215.07,462.23 216.18,462.88 217.27,463.53 218.34,464.18 219.39,464.84 220.41,465.5 221.42,466.18 222.41,466.89 223.37,467.62 224.33,468.35 225.26,469.09 226.18,469.82 227.08,470.55 227.96,471.26 228.83,471.96 229.69,472.63 230.53,473.28 231.36,473.9 232.18,474.49 232.98,475.05 233.77,475.57 234.55,476.06 235.32,476.5 236.07,476.92 236.82,477.31 237.56,477.7 238.28,478.07 238.99,478.42 239.7,478.76 240.39,479.09 241.08,479.41 241.76,479.72 242.43,480.02 243.09,480.31 243.74,480.59 244.38,480.86 245.02,481.12 245.65,481.38 246.27,481.63 246.88,481.87 247.49,482.11 248.08,482.34 248.68,482.56 249.26,482.78 249.84,483 250.41,483.21 250.98,483.41 251.54,483.61 252.09,483.79 252.64,483.97 253.18,484.15 253.72,484.32 254.25,484.48 254.78,484.64 255.3,484.8" stroke="#2ca02c" stroke-width="1.1" fill="none" stroke-linejoin="round"/>
<line x1="16.7" y1="359.4" x2="255.3" y2="359.4" stroke="#9a9a9a" stroke-width="1"/>
<line x1="16.7" y1="485.2" x2="255.3" y2="485.2" stroke="#9a9a9a" stroke-width="1"/>
<line x1="16.7" y1="358.9" x2="16.7" y2="485.7" stroke="#7a7a7a" stroke-width="1"/>
<line x1="255.3" y1="358.9" x2="255.3" y2="485.7" stroke="#8a8a8a" stroke-width="1"/>
<line x1="14.7" y1="469.47" x2="16.7" y2="469.47" stroke="#666666" stroke-width="0.8"/>
<line x1="14.7" y1="453.74" x2="16.7" y2="453.74" stroke="#666666" stroke-width="0.8"/>
<line x1="14.7" y1="438.01" x2="16.7" y2="438.01" stroke="#666666" stroke-width="0.8"/>
<line x1="14.7" y1="422.28" x2="16.7" y2="422.28" stroke="#666666" stroke-width="0.8"/>
<line x1="14.7" y1="406.55" x2="16.7" y2="406.55" stroke="#666666" stroke-width="0.8"/>
<line x1="14.7" y1="390.82" x2="16.7" y2="390.82" stroke="#666666" stroke-width="0.8"/>
<line x1="14.7" y1="375.09" x2="16.7" y2="375.09" stroke="#666666" stroke-width="0.8"/>
<line x1="16.7" y1="485.2" x2="16.7" y2="487.2" stroke="#666666" stroke-width="0.8"/>
<line x1="52.61" y1="485.2" x2="52.61" y2="486.7" stroke="#666666" stroke-width="0.8"/>
<line x1="73.62" y1="485.2" x2="73.62" y2="486.7" stroke="#666666" stroke-width="0.8"/>
<line x1="88.53" y1="485.2" x2="88.53" y2="486.7" stroke="#666666" stroke-width="0.8"/>
<line x1="100.09" y1="485.2" x2="100.09" y2="486.7" stroke="#666666" stroke-width="0.8"/>
<line x1="109.53" y1="485.2" x2="109.53" y2="486.7" stroke="#666666" stroke-width="0.8"/>
<line x1="117.52" y1="485.2" x2="117.52" y2="486.7" stroke="#666666" stroke-width="0.8"/>
<line x1="124.44" y1="485.2" x2="124.44" y2="486.7" stroke="#666666" stroke-width="0.8"/>
<line x1="130.54" y1="485.2" x2="130.54" y2="486.7" stroke="#666666" stroke-width="0.8"/>
<line x1="136" y1="485.2" x2="136" y2="487.2" stroke="#666666" stroke-width="0.8"/>
<line x1="171.91" y1="485.2" x2="171.91" y2="486.7" stroke="#666666" stroke-width="0.8"/>
<line x1="192.92" y1="485.2" x2="192.92" y2="486.7" stroke="#666666" stroke-width="0.8"/>
<line x1="207.83" y1="485.2" x2="207.83" y2="486.7" stroke="#666666" stroke-width="0.8"/>
<line x1="219.39" y1="485.2" x2="219.39" y2="486.7" stroke="#666666" stroke-width="0.8"/>
<line x1="228.83" y1="485.2" x2="228.83" y2="486.7" stroke="#666666" stroke-width="0.8"/>
<line x1="236.82" y1="485.2" x2="236.82" y2="486.7" stroke="#666666" stroke-width="0.8"/>
<line x1="243.74" y1="485.2" x2="243.74" y2="486.7" stroke="#666666" stroke-width="0.8"/>
<line x1="249.84" y1="485.2" x2="249.84" y2="486.7" stroke="#666666" stroke-width="0.8"/>
<line x1="255.3" y1="485.2" x2="255.3" y2="487.2" stroke="#666666" stroke-width="0.8"/>
<text transform="translate(10.8,363) rotate(-90)" text-anchor="middle" font-size="9.8" >1.6</text>
<text transform="translate(10.8,485.4) rotate(-90)" text-anchor="middle" font-size="9.8" >0</text>
<text x="20.8" y="498.2" text-anchor="middle" font-size="9.8" >0.01</text>
<text x="138.3" y="498.2" text-anchor="middle" font-size="9.8" >0.1</text>
<text x="255.9" y="498.2" text-anchor="middle" font-size="9.8" >1</text>
<text x="137" y="510.5" text-anchor="middle" font-size="9.8" >r</text>
<path d="M339.5 379.8V413.8M360.5 398.4V428.4M375.5 412.5V437.5M386.5 421.4V443.4M396.5 428.5V447.5M404.5 433.84V451.12M411.5 438.1V454.1M417.5 441.48V456.37M422.5 444.4V458.4M427.5 447.22V460.53M432.5 449.63V462.37M436.5 451.53V463.79M440.5 453.17V464.99M443.5 454.62V466.04M447.5 455.94V466.96M450.5 457.17V467.8M453.5 458.33V468.57M456.5 459.44V469.28M458.5 460.53V469.94M461.5 461.58V470.54M463.5 462.59V471.1M466.5 463.56V471.62M468.5 464.47V472.1M470.5 465.34V472.56M472.5 466.16V472.99M474.5 466.93V473.4M476.5 467.64V473.79M478.5 468.31V474.16M479.5 468.93V474.51M481.5 469.5V474.85M483.5 470.02V475.18M484.5 470.5V475.5M486.5 470.94V475.8M487.86 471.34V476.09M489.32 471.72V476.36M490.74 472.07V476.61M492.13 472.41V476.86M493.47 472.72V477.09M494.79 473.03V477.32M496.07 473.32V477.54M497.32 473.6V477.75M498.54 473.87V477.95M499.73 474.14V478.16M500.89 474.4V478.35M502.03 474.66V478.55M503.15 474.92V478.74M504.24 475.18V478.93M505.31 475.44V479.11M506.36 475.7V479.3M507.38 475.96V479.49M508.39 476.22V479.67M509.38 476.48V479.86M510.35 476.73V480.04M511.3 476.99V480.22M512.23 477.24V480.4M513.15 477.49V480.58M542.3 484.3V484.9" stroke="#5b9fd0" stroke-width="1" fill="none"/>
<path d="M339.5 383.2V420.2M360.5 401.4V433.8M375.5 414.4V441.6M386.5 422.8V446.8M396.5 429.5V450.5M404.5 434.81V454.01M411.5 439.1V456.9M417.5 442.42V459.03M422.5 445.4V460.8M427.5 448.79V462.26M432.5 451.5V463.7M436.5 453.18V465.2M440.5 454.57V466.5M443.5 455.78V467.65M447.5 456.87V468.68M450.5 457.87V469.63M453.5 458.83V470.5M456.5 459.78V471.31M458.5 460.78V472.02M461.5 461.81V472.61M463.5 462.84V473.13M466.5 463.86V473.59M468.5 464.85V473.99M470.5 465.8V474.36M472.5 466.7V474.69M474.5 467.54V475.01M476.5 468.33V475.3M478.5 469.05V475.59M479.5 469.71V475.87M481.5 470.31V476.15M483.5 470.84V476.42M484.5 471.3V476.7M486.5 471.71V476.97M487.86 472.08V477.22M489.32 472.43V477.46M490.74 472.75V477.68M492.13 473.05V477.89M493.47 473.33V478.09M494.79 473.6V478.29M496.07 473.85V478.47M497.32 474.1V478.65M498.54 474.34V478.83M499.73 474.58V479M500.89 474.82V479.17M502.03 475.05V479.34M503.15 475.29V479.51M504.24 475.52V479.67M505.31 475.76V479.84M506.36 476V480M507.38 476.24V480.16M508.39 476.49V480.33M509.38 476.73V480.49M510.35 476.98V480.66M511.3 477.23V480.82M512.23 477.47V480.98M513.15 477.71V481.14M542.3 484.3V484.9" stroke="#fca35a" stroke-width="1" fill="none"/>
<path d="M339.5 367.7V416.3M360.5 388.5V432.3M375.5 403.3V440.9M386.5 412.6V446M396.5 419.8V449.4M404.5 425.72V451.68M411.5 430.6V453.4M417.5 434.79V454.4M422.5 437.9V455.9M427.5 440.25V458.25M432.5 442.3V460.3M436.5 444.13V461.74M440.5 446.01V462.71M443.5 447.82V463.42M447.5 449.5V464.01M450.5 451.01V464.58M453.5 452.32V465.19M456.5 453.42V465.88M458.5 454.41V466.56M461.5 455.31V467.21M463.5 456.13V467.83M466.5 456.91V468.42M468.5 457.63V468.99M470.5 458.31V469.52M472.5 458.97V470.03M474.5 459.59V470.52M476.5 460.2V470.98M478.5 460.78V471.42M479.5 461.35V471.85M481.5 461.91V472.25M483.5 462.46V472.63M484.5 463V473M486.5 463.53V473.34M487.86 464.04V473.66M489.32 464.55V473.96M490.74 465.04V474.24M492.13 465.51V474.5M493.47 465.98V474.76M494.79 466.44V475M496.07 466.89V475.24M497.32 467.34V475.47M498.54 467.78V475.7M499.73 468.21V475.93M500.89 468.64V476.15M502.03 469.06V476.38M503.15 469.47V476.61M504.24 469.89V476.83M505.31 470.29V477.07M506.36 470.7V477.3M507.38 471.11V477.54M508.39 471.52V477.79M509.38 471.94V478.04M510.35 472.35V478.3M511.3 472.77V478.57M512.23 473.19V478.83M513.15 473.6V479.09M542.3 484.3V484.9" stroke="#6cbf6a" stroke-width="1" fill="none"/>
<defs><linearGradient id="g169_0" gradientUnits="userSpaceOnUse" x1="458.84" y1="0" x2="542.3" y2="0"><stop offset="0" stop-color="#8dbde0" stop-opacity="0"/><stop offset="0.25" stop-color="#8dbde0" stop-opacity="0.5"/><stop offset="0.5" stop-color="#8dbde0" stop-opacity="0.9"/><stop offset="1" stop-color="#3d8cc4"/></linearGradient></defs><polygon points="458.84,460.53 461.37,461.58 463.79,462.59 466.09,463.56 468.3,464.47 470.41,465.34 472.45,466.16 474.4,466.93 476.29,467.64 478.11,468.31 479.87,468.93 481.57,469.5 483.21,470.02 484.81,470.5 486.36,470.94 487.86,471.34 489.32,471.72 490.74,472.07 492.13,472.41 493.47,472.72 494.79,473.03 496.07,473.32 497.32,473.6 498.54,473.87 499.73,474.14 500.89,474.4 502.03,474.66 503.15,474.92 504.24,475.18 505.31,475.44 506.36,475.7 507.38,475.96 508.39,476.22 509.38,476.48 510.35,476.73 511.3,476.99 512.23,477.24 513.15,477.49 514.05,477.73 514.94,477.97 515.81,478.21 516.67,478.44 517.51,478.67 518.34,478.9 519.16,479.12 519.96,479.33 520.75,479.54 521.53,479.75 522.3,479.95 523.06,480.14 523.8,480.33 524.54,480.51 525.27,480.69 525.98,480.87 526.69,481.04 527.38,481.2 528.07,481.36 528.75,481.51 529.42,481.66 530.08,481.81 530.73,481.95 531.37,482.09 532.01,482.23 532.64,482.37 533.26,482.5 533.87,482.63 534.48,482.76 535.08,482.88 535.67,483 536.26,483.12 536.84,483.24 537.41,483.36 537.98,483.47 538.54,483.58 539.09,483.69 539.64,483.8 540.18,483.9 540.72,484 541.25,484.1 541.78,484.2 542.3,484.3 542.3,484.9 541.78,484.85 541.25,484.8 540.72,484.75 540.18,484.7 539.64,484.65 539.09,484.59 538.54,484.53 537.98,484.47 537.41,484.41 536.84,484.35 536.26,484.29 535.67,484.22 535.08,484.15 534.48,484.08 533.87,484.01 533.26,483.93 532.64,483.85 532.01,483.77 531.37,483.69 530.73,483.61 530.08,483.52 529.42,483.43 528.75,483.34 528.07,483.24 527.38,483.14 526.69,483.04 525.98,482.93 525.27,482.82 524.54,482.7 523.8,482.58 523.06,482.45 522.3,482.32 521.53,482.18 520.75,482.04 519.96,481.89 519.16,481.74 518.34,481.59 517.51,481.43 516.67,481.27 515.81,481.1 514.94,480.93 514.05,480.76 513.15,480.58 512.23,480.4 511.3,480.22 510.35,480.04 509.38,479.86 508.39,479.67 507.38,479.49 506.36,479.3 505.31,479.11 504.24,478.93 503.15,478.74 502.03,478.55 500.89,478.35 499.73,478.16 498.54,477.95 497.32,477.75 496.07,477.54 494.79,477.32 493.47,477.09 492.13,476.86 490.74,476.61 489.32,476.36 487.86,476.09 486.36,475.8 484.81,475.5 483.21,475.18 481.57,474.85 479.87,474.51 478.11,474.16 476.29,473.79 474.4,473.4 472.45,472.99 470.41,472.56 468.3,472.1 466.09,471.62 463.79,471.1 461.37,470.54 458.84,469.94" fill="url(#g169_0)"/>
<defs><linearGradient id="g169_1" gradientUnits="userSpaceOnUse" x1="458.84" y1="0" x2="542.3" y2="0"><stop offset="0" stop-color="#fdbf8a" stop-opacity="0"/><stop offset="0.25" stop-color="#fdbf8a" stop-opacity="0.5"/><stop offset="0.5" stop-color="#fdbf8a" stop-opacity="0.9"/><stop offset="1" stop-color="#ff8a22"/></linearGradient></defs><polygon points="458.84,460.78 461.37,461.81 463.79,462.84 466.09,463.86 468.3,464.85 470.41,465.8 472.45,466.7 474.4,467.54 476.29,468.33 478.11,469.05 479.87,469.71 481.57,470.31 483.21,470.84 484.81,471.3 486.36,471.71 487.86,472.08 489.32,472.43 490.74,472.75 492.13,473.05 493.47,473.33 494.79,473.6 496.07,473.85 497.32,474.1 498.54,474.34 499.73,474.58 500.89,474.82 502.03,475.05 503.15,475.29 504.24,475.52 505.31,475.76 506.36,476 507.38,476.24 508.39,476.49 509.38,476.73 510.35,476.98 511.3,477.23 512.23,477.47 513.15,477.71 514.05,477.95 514.94,478.19 515.81,478.42 516.67,478.65 517.51,478.87 518.34,479.09 519.16,479.31 519.96,479.52 520.75,479.73 521.53,479.93 522.3,480.13 523.06,480.32 523.8,480.5 524.54,480.68 525.27,480.86 525.98,481.03 526.69,481.19 527.38,481.35 528.07,481.5 528.75,481.65 529.42,481.79 530.08,481.93 530.73,482.07 531.37,482.2 532.01,482.34 532.64,482.47 533.26,482.59 533.87,482.72 534.48,482.84 535.08,482.96 535.67,483.07 536.26,483.19 536.84,483.3 537.41,483.41 537.98,483.52 538.54,483.62 539.09,483.72 539.64,483.82 540.18,483.92 540.72,484.02 541.25,484.12 541.78,484.21 542.3,484.3 542.3,484.9 541.78,484.86 541.25,484.82 540.72,484.78 540.18,484.74 539.64,484.69 539.09,484.65 538.54,484.6 537.98,484.55 537.41,484.5 536.84,484.45 536.26,484.39 535.67,484.34 535.08,484.28 534.48,484.22 533.87,484.16 533.26,484.09 532.64,484.03 532.01,483.96 531.37,483.89 530.73,483.81 530.08,483.74 529.42,483.66 528.75,483.58 528.07,483.5 527.38,483.41 526.69,483.32 525.98,483.23 525.27,483.13 524.54,483.02 523.8,482.92 523.06,482.8 522.3,482.69 521.53,482.56 520.75,482.44 519.96,482.31 519.16,482.18 518.34,482.04 517.51,481.9 516.67,481.75 515.81,481.6 514.94,481.45 514.05,481.3 513.15,481.14 512.23,480.98 511.3,480.82 510.35,480.66 509.38,480.49 508.39,480.33 507.38,480.16 506.36,480 505.31,479.84 504.24,479.67 503.15,479.51 502.03,479.34 500.89,479.17 499.73,479 498.54,478.83 497.32,478.65 496.07,478.47 494.79,478.29 493.47,478.09 492.13,477.89 490.74,477.68 489.32,477.46 487.86,477.22 486.36,476.97 484.81,476.7 483.21,476.42 481.57,476.15 479.87,475.87 478.11,475.59 476.29,475.3 474.4,475.01 472.45,474.69 470.41,474.36 468.3,473.99 466.09,473.59 463.79,473.13 461.37,472.61 458.84,472.02" fill="url(#g169_1)"/>
<defs><linearGradient id="g169_2" gradientUnits="userSpaceOnUse" x1="458.84" y1="0" x2="542.3" y2="0"><stop offset="0" stop-color="#8ccf8a" stop-opacity="0"/><stop offset="0.25" stop-color="#8ccf8a" stop-opacity="0.5"/><stop offset="0.5" stop-color="#8ccf8a" stop-opacity="0.9"/><stop offset="1" stop-color="#3aa53a"/></linearGradient></defs><polygon points="458.84,454.41 461.37,455.31 463.79,456.13 466.09,456.91 468.3,457.63 470.41,458.31 472.45,458.97 474.4,459.59 476.29,460.2 478.11,460.78 479.87,461.35 481.57,461.91 483.21,462.46 484.81,463 486.36,463.53 487.86,464.04 489.32,464.55 490.74,465.04 492.13,465.51 493.47,465.98 494.79,466.44 496.07,466.89 497.32,467.34 498.54,467.78 499.73,468.21 500.89,468.64 502.03,469.06 503.15,469.47 504.24,469.89 505.31,470.29 506.36,470.7 507.38,471.11 508.39,471.52 509.38,471.94 510.35,472.35 511.3,472.77 512.23,473.19 513.15,473.6 514.05,474.01 514.94,474.42 515.81,474.82 516.67,475.22 517.51,475.6 518.34,475.98 519.16,476.35 519.96,476.71 520.75,477.07 521.53,477.41 522.3,477.74 523.06,478.06 523.8,478.37 524.54,478.67 525.27,478.96 525.98,479.24 526.69,479.5 527.38,479.76 528.07,480 528.75,480.23 529.42,480.46 530.08,480.68 530.73,480.9 531.37,481.11 532.01,481.32 532.64,481.52 533.26,481.72 533.87,481.91 534.48,482.1 535.08,482.29 535.67,482.47 536.26,482.64 536.84,482.81 537.41,482.98 537.98,483.14 538.54,483.3 539.09,483.45 539.64,483.6 540.18,483.75 540.72,483.89 541.25,484.03 541.78,484.17 542.3,484.3 542.3,484.9 541.78,484.86 541.25,484.81 540.72,484.76 540.18,484.71 539.64,484.65 539.09,484.6 538.54,484.54 537.98,484.47 537.41,484.41 536.84,484.34 536.26,484.26 535.67,484.19 535.08,484.11 534.48,484.03 533.87,483.94 533.26,483.85 532.64,483.76 532.01,483.66 531.37,483.56 530.73,483.46 530.08,483.35 529.42,483.24 528.75,483.12 528.07,483 527.38,482.87 526.69,482.73 525.98,482.59 525.27,482.43 524.54,482.26 523.8,482.09 523.06,481.9 522.3,481.7 521.53,481.5 520.75,481.29 519.96,481.07 519.16,480.84 518.34,480.61 517.51,480.37 516.67,480.12 515.81,479.87 514.94,479.61 514.05,479.35 513.15,479.09 512.23,478.83 511.3,478.57 510.35,478.3 509.38,478.04 508.39,477.79 507.38,477.54 506.36,477.3 505.31,477.07 504.24,476.83 503.15,476.61 502.03,476.38 500.89,476.15 499.73,475.93 498.54,475.7 497.32,475.47 496.07,475.24 494.79,475 493.47,474.76 492.13,474.5 490.74,474.24 489.32,473.96 487.86,473.66 486.36,473.34 484.81,473 483.21,472.63 481.57,472.25 479.87,471.85 478.11,471.42 476.29,470.98 474.4,470.52 472.45,470.03 470.41,469.52 468.3,468.99 466.09,468.42 463.79,467.83 461.37,467.21 458.84,466.56" fill="url(#g169_2)"/>
<defs><linearGradient id="lg169_0" gradientUnits="userSpaceOnUse" x1="451.92" y1="0" x2="479.87" y2="0"><stop offset="0" stop-color="#1f77b4"/><stop offset="1" stop-color="#1f77b4" stop-opacity="0"/></linearGradient></defs><polyline points="303.5,367.6 339.44,396.8 360.47,413.4 375.39,425 386.96,432.4 396.41,438 404.4,442.48 411.33,446.1 417.44,448.93 422.9,451.4 427.84,453.87 432.35,456 436.5,457.66 440.35,459.08 443.93,460.33 447.27,461.45 450.42,462.48 453.38,463.45 456.18,464.36 458.84,465.23 461.37,466.06 463.79,466.84 466.09,467.59 468.3,468.29 470.41,468.95 472.45,469.57 474.4,470.16 476.29,470.71 478.11,471.23 479.87,471.72 481.57,472.18 483.21,472.6 484.81,473 486.36,473.37 487.86,473.72 489.32,474.04 490.74,474.34 492.13,474.63 493.47,474.91 494.79,475.17 496.07,475.43 497.32,475.67 498.54,475.91 499.73,476.15 500.89,476.38 502.03,476.61 503.15,476.83 504.24,477.05 505.31,477.28 506.36,477.5 507.38,477.72 508.39,477.95 509.38,478.17 510.35,478.39 511.3,478.61 512.23,478.82 513.15,479.03 514.05,479.25 514.94,479.45 515.81,479.66 516.67,479.86 517.51,480.05 518.34,480.24 519.16,480.43 519.96,480.61 520.75,480.79 521.53,480.96 522.3,481.13 523.06,481.29 523.8,481.45 524.54,481.61 525.27,481.76 525.98,481.9 526.69,482.04 527.38,482.17 528.07,482.3 528.75,482.42 529.42,482.55 530.08,482.66 530.73,482.78 531.37,482.89 532.01,483 532.64,483.11 533.26,483.22 533.87,483.32 534.48,483.42 535.08,483.52 535.67,483.61 536.26,483.7 536.84,483.8 537.41,483.88 537.98,483.97 538.54,484.06 539.09,484.14 539.64,484.22 540.18,484.3 540.72,484.38 541.25,484.45 541.78,484.53 542.3,484.6" stroke="url(#lg169_0)" stroke-width="1.1" fill="none" stroke-linejoin="round"/>
<polyline points="303.5,373.9 339.44,401.7 360.47,417.6 375.39,428 386.96,434.8 396.41,440 404.4,444.41 411.33,448 417.44,450.72 422.9,453.1 427.84,455.52 432.35,457.6 436.5,459.19 440.35,460.54 443.93,461.72 447.27,462.77 450.42,463.75 453.38,464.67 456.18,465.55 458.84,466.4 461.37,467.21 463.79,467.99 466.09,468.72 468.3,469.42 470.41,470.08 472.45,470.7 474.4,471.27 476.29,471.82 478.11,472.32 479.87,472.79 481.57,473.23 483.21,473.63 484.81,474 486.36,474.34 487.86,474.65 489.32,474.94 490.74,475.21 492.13,475.47 493.47,475.71 494.79,475.94 496.07,476.16 497.32,476.38 498.54,476.59 499.73,476.79 500.89,477 502.03,477.2 503.15,477.4 504.24,477.6 505.31,477.8 506.36,478 507.38,478.2 508.39,478.41 509.38,478.61 510.35,478.82 511.3,479.02 512.23,479.23 513.15,479.43 514.05,479.62 514.94,479.82 515.81,480.01 516.67,480.2 517.51,480.38 518.34,480.57 519.16,480.74 519.96,480.92 520.75,481.08 521.53,481.25 522.3,481.41 523.06,481.56 523.8,481.71 524.54,481.85 525.27,481.99 525.98,482.13 526.69,482.26 527.38,482.38 528.07,482.5 528.75,482.61 529.42,482.73 530.08,482.84 530.73,482.94 531.37,483.05 532.01,483.15 532.64,483.25 533.26,483.34 533.87,483.44 534.48,483.53 535.08,483.62 535.67,483.7 536.26,483.79 536.84,483.87 537.41,483.95 537.98,484.03 538.54,484.11 539.09,484.18 539.64,484.26 540.18,484.33 540.72,484.4 541.25,484.47 541.78,484.53 542.3,484.6" stroke="#ff7f0e" stroke-width="1.1" fill="none" stroke-linejoin="round"/>
<polyline points="303.5,360.8 339.44,392 360.47,410.4 375.39,422.1 386.96,429.3 396.41,434.6 404.4,438.7 411.33,442 417.44,444.6 422.9,446.9 427.84,449.25 432.35,451.3 436.5,452.94 440.35,454.36 443.93,455.62 447.27,456.76 450.42,457.79 453.38,458.75 456.18,459.65 458.84,460.49 461.37,461.26 463.79,461.98 466.09,462.66 468.3,463.31 470.41,463.92 472.45,464.5 474.4,465.06 476.29,465.59 478.11,466.1 479.87,466.6 481.57,467.08 483.21,467.55 484.81,468 486.36,468.44 487.86,468.85 489.32,469.25 490.74,469.64 492.13,470.01 493.47,470.37 494.79,470.72 496.07,471.07 497.32,471.41 498.54,471.74 499.73,472.07 500.89,472.39 502.03,472.72 503.15,473.04 504.24,473.36 505.31,473.68 506.36,474 507.38,474.32 508.39,474.65 509.38,474.99 510.35,475.33 511.3,475.67 512.23,476.01 513.15,476.35 514.05,476.68 514.94,477.02 515.81,477.35 516.67,477.67 517.51,477.98 518.34,478.29 519.16,478.6 519.96,478.89 520.75,479.18 521.53,479.45 522.3,479.72 523.06,479.98 523.8,480.23 524.54,480.47 525.27,480.7 525.98,480.91 526.69,481.12 527.38,481.32 528.07,481.5 528.75,481.68 529.42,481.85 530.08,482.02 530.73,482.18 531.37,482.34 532.01,482.49 532.64,482.64 533.26,482.79 533.87,482.93 534.48,483.06 535.08,483.2 535.67,483.33 536.26,483.45 536.84,483.57 537.41,483.69 537.98,483.81 538.54,483.92 539.09,484.02 539.64,484.13 540.18,484.23 540.72,484.33 541.25,484.42 541.78,484.51 542.3,484.6" stroke="#2ca02c" stroke-width="1.1" fill="none" stroke-linejoin="round"/>
<line x1="303.5" y1="359.4" x2="542.3" y2="359.4" stroke="#9a9a9a" stroke-width="1"/>
<line x1="303.5" y1="484.6" x2="542.3" y2="484.6" stroke="#9a9a9a" stroke-width="1"/>
<line x1="303.5" y1="358.9" x2="303.5" y2="485.1" stroke="#7a7a7a" stroke-width="1"/>
<line x1="542.3" y1="358.9" x2="542.3" y2="485.1" stroke="#8a8a8a" stroke-width="1"/>
<line x1="301.5" y1="459.56" x2="303.5" y2="459.56" stroke="#666666" stroke-width="0.8"/>
<line x1="301.5" y1="434.52" x2="303.5" y2="434.52" stroke="#666666" stroke-width="0.8"/>
<line x1="301.5" y1="409.48" x2="303.5" y2="409.48" stroke="#666666" stroke-width="0.8"/>
<line x1="301.5" y1="384.44" x2="303.5" y2="384.44" stroke="#666666" stroke-width="0.8"/>
<line x1="303.5" y1="484.6" x2="303.5" y2="486.6" stroke="#666666" stroke-width="0.8"/>
<line x1="339.44" y1="484.6" x2="339.44" y2="486.1" stroke="#666666" stroke-width="0.8"/>
<line x1="360.47" y1="484.6" x2="360.47" y2="486.1" stroke="#666666" stroke-width="0.8"/>
<line x1="375.39" y1="484.6" x2="375.39" y2="486.1" stroke="#666666" stroke-width="0.8"/>
<line x1="386.96" y1="484.6" x2="386.96" y2="486.1" stroke="#666666" stroke-width="0.8"/>
<line x1="396.41" y1="484.6" x2="396.41" y2="486.1" stroke="#666666" stroke-width="0.8"/>
<line x1="404.4" y1="484.6" x2="404.4" y2="486.1" stroke="#666666" stroke-width="0.8"/>
<line x1="411.33" y1="484.6" x2="411.33" y2="486.1" stroke="#666666" stroke-width="0.8"/>
<line x1="417.44" y1="484.6" x2="417.44" y2="486.1" stroke="#666666" stroke-width="0.8"/>
<line x1="422.9" y1="484.6" x2="422.9" y2="486.6" stroke="#666666" stroke-width="0.8"/>
<line x1="458.84" y1="484.6" x2="458.84" y2="486.1" stroke="#666666" stroke-width="0.8"/>
<line x1="479.87" y1="484.6" x2="479.87" y2="486.1" stroke="#666666" stroke-width="0.8"/>
<line x1="494.79" y1="484.6" x2="494.79" y2="486.1" stroke="#666666" stroke-width="0.8"/>
<line x1="506.36" y1="484.6" x2="506.36" y2="486.1" stroke="#666666" stroke-width="0.8"/>
<line x1="515.81" y1="484.6" x2="515.81" y2="486.1" stroke="#666666" stroke-width="0.8"/>
<line x1="523.8" y1="484.6" x2="523.8" y2="486.1" stroke="#666666" stroke-width="0.8"/>
<line x1="530.73" y1="484.6" x2="530.73" y2="486.1" stroke="#666666" stroke-width="0.8"/>
<line x1="536.84" y1="484.6" x2="536.84" y2="486.1" stroke="#666666" stroke-width="0.8"/>
<line x1="542.3" y1="484.6" x2="542.3" y2="486.6" stroke="#666666" stroke-width="0.8"/>
<text transform="translate(297.2,364.5) rotate(-90)" text-anchor="middle" font-size="9.8" >2.5</text>
<text transform="translate(297.2,484.6) rotate(-90)" text-anchor="middle" font-size="9.8" >0</text>
<text x="306" y="498.2" text-anchor="middle" font-size="9.8" >0.01</text>
<text x="424.5" y="498.2" text-anchor="middle" font-size="9.8" >0.1</text>
<text x="542.1" y="498.2" text-anchor="middle" font-size="9.8" >1</text>
<text x="421.2" y="510.5" text-anchor="middle" font-size="9.8" >r</text>
<text x="109" y="355.7" font-size="9.6" font-family="Liberation Sans, sans-serif" font-weight="bold" textLength="51.7" lengthAdjust="spacingAndGlyphs">(D) RangeEn</text>
<text x="161.8" y="357.5" font-size="6" font-family="Liberation Sans, sans-serif" font-weight="bold">A</text>
<text x="398" y="354.7" font-size="9.6" font-family="Liberation Sans, sans-serif" font-weight="bold" textLength="52.4" lengthAdjust="spacingAndGlyphs">(E) RangeEn</text>
<text x="450.7" y="356.6" font-size="6" font-family="Liberation Sans, sans-serif" font-weight="bold">B</text>
</svg></body></html>
